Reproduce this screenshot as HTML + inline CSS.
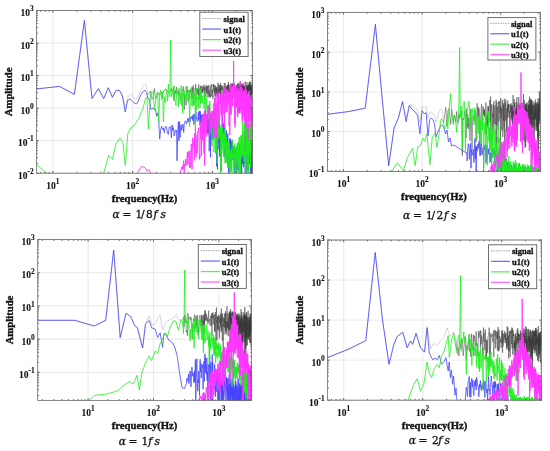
<!DOCTYPE html>
<html><head><meta charset="utf-8"><style>
html,body{margin:0;padding:0;background:#fff;}
svg{display:block;filter:blur(0.3px);}
text{font-family:'Liberation Serif', 'Times New Roman', serif;fill:#111;}
.tl{font-size:9.5px;font-weight:bold;stroke:#111;stroke-width:0.1px;}
.sup{font-size:7.4px;}
.al{font-size:10.7px;font-weight:bold;stroke:#111;stroke-width:0.35px;}
.lg{font-size:8.5px;font-weight:bold;stroke:#111;stroke-width:0.3px;}
.cap{font-size:10.6px;font-family:'DejaVu Serif',serif;stroke:#111;stroke-width:0.3px;}
</style></head><body>
<svg width="550" height="451" viewBox="0 0 550 451">
<clipPath id="c_p1"><rect x="36.6" y="10.5" width="216" height="162.7"/></clipPath>
<path d="M52.87 10.5V173.2M132.6 10.5V173.2M212.33 10.5V173.2M36.6 173.2H252.6M36.6 140.66H252.6M36.6 108.12H252.6M36.6 75.58H252.6M36.6 43.04H252.6M36.6 10.5H252.6" stroke="#e3e3e3" stroke-width="0.8" fill="none"/>
<g clip-path="url(#c_p1)" fill="none" stroke-linejoin="bevel">
<path d="M36 89 59.6 86.4 74.4 94.4 84.4 20.4 92 98.5 98.3 88.6 103.7 98.5 108.3 87.8 112.4 97.3 116.1 90.3 119.4 90.3 122.4 95 125.2 107 127.8 97 130.2 94 132.4 95 134.5 99 136.5 98.5 138.4 96 140.2 92 141.9 88 143.5 85 145.1 84 146.5 86.5 148.05 94.73" stroke="#9a9a9a" stroke-width="0.6" stroke-dasharray="1.3 0.7"/>
<path d="M148.05 94.73 149.41 92.65 150.72 90.91 151.98 99.37 153.19 97.08 154.37 88.36 155.5 98.57 156.6 96.24 157.67 95.29 158.7 93.25 159.7 95.12 160.68 92.98 161.63 92.29 162.55 97.4 163.45 91.05 164.33 91.11 165.18 89.11 166.02 88.73 166.83 90.02 167.63 90.6 168.4 93.08 169.17 92.84 169.91 92.33 170.64 91.27 171.35 88.46 172.05 91.39 172.74 90.07 173.41 86.69 174.07 100.89 174.72 92.97 175.35 90.5 175.98 94.21 176.59 87.14 177.19 92.97 177.78 93.96 178.37 89.9 178.94 95.37 179.5 92.23 180.05 96.83 180.6 99.86 181.14 94.08 181.67 93.63 182.19 89.9 182.7 90.93 183.2 86.51 183.7 92.27 184.19 109.81 184.68 94.13 185.16 94.66 185.63 99.78 186.09 105.3 186.55 94.88 187 86.19 187.45 91.97 187.89 90.23 188.33 94.99 188.76 96.01 189.18 99.96 189.6 90.27 190.02 91.5 190.43 92.18 190.83 88.93 191.23 98.28 191.63 93.94 192.02 89.51 192.4 87.22 192.79 98.13 193.17 85.25 193.54 91.14 193.91 105.29 194.28 98.93 194.64 96.73 195 88.22 195.35 89.45 195.7 83.94 196.05 94.74 196.4 93.54 196.74 88.82 197.08 90.55 197.41 88.61 197.74 93.94 198.07 90.06 198.4 95.59 198.72 84.43 199.04 98.17 199.35 95.56 199.67 88.48 199.98 97.86 200.28 86.88 200.59 88.46 200.89 85.61 201.19 87.83 201.49 89.46 201.78 93.22 202.08 85.89 202.37 91.93 202.65 89.13 202.94 93.14 203.22 86.64 203.5 89.6 203.78 86.83 204.05 84.72 204.33 98.67 204.6 87.31 204.87 90.1 205.14 86.77 205.4 88.7 205.67 92.43 205.93 97.39 206.19 84.91 206.44 90.79 206.7 92.57 206.95 86.08 207.2 94 207.45 86.09 207.7 89.44 207.95 97.75 208.19 97.23 208.44 85.18 208.68 88.8 208.92 95.1 209.16 90.4 209.39 97.15 209.63 94.69 209.86 96.39 210.09 85.43 210.32 89.22 210.55 97.51 210.78 96.47 211 94.57 211.23 84.05 211.45 84.68 211.67 88.18 211.89 96.44 212.11 92.8 212.33 89.59 212.54 93.32 212.76 93.33 212.97 98.67 213.18 84.4 213.39 86.84 213.6 84.31 213.81 91.3 214.02 91.31 214.22 84.51 214.43 90.64 214.63 93.46 214.83 87.92 215.03 96.7 215.23 90.96 215.43 85.65 215.63 89.58 215.82 96.72 216.02 86.68 216.21 91.93 216.4 87.16 216.6 93.81 216.79 89.53 216.98 87.84 217.17 88.7 217.35 94.36 217.54 95.37 217.73 91.09 217.91 82.69 218.09 96.71 218.28 90.4 218.46 84.72 218.64 98.51 218.82 89.49 219 93.18 219.18 91.66 219.35 89.4 219.53 93.01 219.7 85.01 219.88 90.16 220.05 87.2 220.23 94.64 220.4 83.09 220.57 88.95 220.74 99.14 220.91 84.91 221.08 85.9 221.24 86.42 221.41 90.18 221.58 85.7 221.74 88.46 221.91 87.83 222.07 98.06 222.23 90.92 222.4 90.77 222.56 88.28 222.72 85.76 222.88 88.88 223.04 89 223.19 91.55 223.35 92.86 223.51 90.79 223.67 100.22 223.82 91.26 223.98 87.56 224.13 89.43 224.28 82.88 224.44 93.33 224.59 86.21 224.74 89.43 224.89 88.64 225.04 91.12 225.19 94.05 225.34 88.49 225.49 86.95 225.64 89.95 225.78 100.27 225.93 96.71 226.08 88.1 226.22 86.26 226.37 99.19 226.51 87.07 226.65 86.54 226.8 94.1 226.94 86.79 227.08 89.34 227.22 87.45 227.36 85.06 227.5 95.3 227.64 96.49 227.78 85.07 227.92 93.44 228.05 89.76 228.19 84.18 228.33 87.91 228.46 81.86 228.6 99.38 228.73 97.71 228.87 91.65 229 87.98 229.14 98.07 229.27 101.88 229.4 92.32 229.53 91.46 229.67 85.46 229.8 92.18 229.93 107.01 230.06 96.06 230.19 92.56 230.32 88.24 230.44 87.77 230.57 86.16 230.7 89.15 230.83 83.31 230.95 92.96 231.08 95.54 231.2 89.53 231.33 92.05 231.45 86.12 231.58 97.66 231.7 88.94 231.83 84.12 231.95 89.94 232.07 91.1 232.19 93.94 232.32 83.45 232.44 88.85 232.56 84.36 232.68 84.88 232.8 85.19 232.92 96.81 233.04 95.01 233.16 86.89 233.27 92.35 233.39 93.21 233.51 87.37 233.63 89.65 233.74 91.95 233.86 91.75 233.98 92.29 234.09 98.19 234.21 82.98 234.32 87.22 234.44 94.09 234.55 93.09 234.66 87.97 234.78 89.57 234.89 98.72 235 105.18 235.12 90.23 235.23 85.53 235.34 88.44 235.45 88.08 235.56 87.75 235.67 88.83 235.78 89.72 235.89 88.31 236 93.92 236.11 92.77 236.22 95.14 236.33 99.37 236.43 84.84 236.54 90.59 236.65 107.56 236.76 91.62 236.86 86.65 236.97 92.93 237.08 92.93 237.18 86.52 237.29 96.72 237.39 109.72 237.5 84 237.6 94.25 237.71 88.75 237.81 88.48 237.91 94.21 238.02 100.5 238.12 98.44 238.22 82.82 238.32 90.55 238.43 106.25 238.53 89.98 238.63 87.31 238.73 89.16 238.83 86.82 238.93 83.71 239.03 86.83 239.13 93.19 239.23 91.29 239.33 113.04 239.43 88.72 239.53 87.99 239.63 87.36 239.72 100.81 239.82 86.23 239.92 86.85 240.02 83.13 240.11 91.14 240.21 88.1 240.31 84.3 240.4 92.18 240.5 94.18 240.6 82.28 240.69 86.27 240.79 87.51 240.88 88.19 240.98 88.37 241.07 89.97 241.17 103.86 241.26 89.47 241.35 86.71 241.45 84.02 241.54 93.69 241.63 93.9 241.73 87.74 241.82 97.19 241.91 85.98 242 96.63 242.09 89.53 242.19 84.01 242.28 92.04 242.37 94.09 242.46 87.5 242.55 85.92 242.64 88.09 242.73 101.61 242.82 91.52 242.91 104.85 243 86.29 243.09 100.04 243.18 82.82 243.26 89.2 243.35 93 243.44 85.93 243.53 88.2 243.62 87.58 243.7 102.43 243.79 88.32 243.88 108.91 243.97 94.63 244.05 85.51 244.14 86.49 244.23 90.29 244.31 95.33 244.4 86.48 244.48 100.19 244.57 85.9 244.65 86.78 244.74 92.77 244.82 86.62 244.91 88.89 244.99 85.85 245.08 89.84 245.16 93.24 245.24 83.07 245.33 81.4 245.41 84.36 245.49 93.31 245.58 85.32 245.66 89.1 245.74 90.58 245.82 85.84 245.91 93.12 245.99 94.91 246.07 92.12 246.15 87.98 246.23 87.22 246.31 93.84 246.4 87.06 246.48 85.73 246.56 93.84 246.64 88.57 246.72 96.24 246.8 90.99 246.88 86.77 246.96 82.08 247.04 86.41 247.12 92.16 247.19 87.42 247.27 90.92 247.35 95.88 247.43 85.5 247.51 84.98 247.59 87.12 247.67 92.17 247.74 89.19 247.82 86.88 247.9 90.12 247.98 87.3 248.05 86.01 248.13 90.28 248.21 87.04 248.28 92.89 248.36 87.81 248.44 89.1 248.51 84.45 248.59 92.64 248.67 93.67 248.74 88.15 248.82 89.85 248.89 85.21 248.97 87.9 249.04 90.48 249.12 82.23 249.19 90.35 249.27 87.89 249.34 86.19 249.41 86.72 249.49 84.98 249.56 89.73 249.64 87.06 249.71 101.74 249.78 86.25 249.86 91.23 249.93 81.38 250 98.04 250.08 83.45 250.15 81.98 250.22 90.45 250.29 93.71 250.37 92.63 250.44 96.97 250.51 93.78 250.58 92.96 250.65 102.77 250.72 85.35 250.8 89.86 250.87 89.99 250.94 89.12 251.01 83.52 251.08 85.74 251.15 90.67 251.22 88.97 251.29 93.15 251.36 95.29 251.43 93.01 251.5 86.14 251.57 89.82 251.64 95.27 251.71 92.57 251.78 89.57 251.85 87.47 251.92 103.02 251.99 105.92 252.05 98.91 252.12 89.03 252.19 94.12 252.26 84.27 252.33 85.85 252.4 93.56 252.46 81.96 252.53 93.93 252.6 89.06" stroke="#3a3a3a" stroke-width="0.5" />
<path d="M36 89 59.6 86.4 74.4 94.4 84.4 20.4 92 98.5 98.3 88.6 103.7 98.5 108.3 87.8 112.4 97.3 116.1 90.3 119.4 90.3 122.4 96 125.2 112 127.8 100 130.2 99 132.4 101 134.5 103.4 136.5 103.9 138.4 101 140.2 96 141.9 93 143.5 91 145.1 90.3 146.5 92.7 148.05 98.76 149.41 99 150.72 109.31 151.98 108.76 153.19 108.21 154.37 109.7 155.5 108.92 156.6 116.21 157.67 112.88 158.7 119.54 159.7 139.08 160.68 129.42 161.63 126.17 162.55 129.82 163.45 127.86 164.33 132.79 165.18 127.07 166.02 126.11 166.83 129.04 167.63 133.59 168.4 134.42 169.17 127.09 169.91 127.2 170.64 126.84 171.35 137.91 172.05 124.92 172.74 130.44 173.41 127.69 174.07 136.02 174.72 134.43 175.35 129.93 175.98 131.48 176.59 130.18 177 160.7 177.78 133.6 178.37 121.8 178.94 140.73 179.5 121.58 180.05 137.43 180.6 126.58 181.14 124.61 181.67 130.52 182.19 128.58 182.7 124.6 183.2 124.21 183.7 132.43 184.19 124.93 184.68 123.32 185.16 120.83 185.63 121.29 186.09 121.43 186.55 124.08 187 122.88 187.45 119.93 187.89 117.99 188.33 121.75 188.76 119.2 189.18 119.59 189.6 116.04 190.02 122.11 190.43 117.84 190.83 117.27 191.23 117.94 191.63 116.65 192.02 119.2 192.4 116.17 192.79 120.6 193.17 114.09 193.54 114.68 193.91 124.46 194.28 115.64 194.64 116.98 195 114.03 195.35 121.38 195.7 111.07 196.05 112.38 196.4 118.9 196.74 117.5 197.08 121.46 197.41 120.68 197.74 120.28 198.07 119.18 198.4 112.2 198.72 120.38 199.04 112.13 199.35 110.99 199.67 113.42 199.98 125.36 200.28 111.31 200.59 124.1 200.89 114.41 201.19 117.26 201.49 115.54 201.78 121.89 202.08 123.03 202.37 114.6 202.65 115.66 202.94 114.6 203.22 116.7 203.5 124.87 203.78 122.13 204.05 120.77 204.33 120.44 204.6 143.54 204.87 125.39 205.14 109.36 205.4 119.29 205.67 128.32 205.93 118 206.19 117.11 206.44 114.52 206.7 123.38 206.95 122 207.2 114.79 207.45 133.64 207.7 115.12 207.95 119.68 208.19 132.85 208.44 119.62 208.68 133.87 208.92 118.8 209.16 151.18 209.39 146.58 209.63 127.11 209.86 115.56 210.09 114.09 210.32 129.55 210.55 157.19 210.78 119.85 211 117.4 211.23 114.35 211.45 117.98 211.67 137.06 211.89 140.43 212.11 119.8 212.33 127.36 212.54 138.5 212.76 124.19 212.97 139.31 213.18 125.12 213.39 127.48 213.6 126.19 213.81 110.31 214.02 128.44 214.22 127.07 214.43 116.89 214.63 117.33 214.83 137.81 215.03 123.28 215.23 124.75 215.43 126.06 215.63 130.89 215.82 132.01 216.02 146.5 216.21 153.84 216.4 135.9 216.6 166.34 216.79 123.51 216.98 119.16 217.17 138.93 217.35 130.39 217.54 169.33 217.73 134.6 217.91 115.01 218.09 149.5 218.28 121.97 218.46 125.64 218.64 141.63 218.82 137.24 219 141.68 219.18 123.86 219.35 125.93 219.53 156.48 219.7 135.91 219.88 133.27 220.05 132.81 220.23 131.81 220.4 132.27 220.57 137.72 220.74 156.06 220.91 134.43 221.08 171.33 221.24 135.05 221.41 131.33 221.58 131.1 221.74 133.36 221.91 140.56 222.07 140.16 222.23 129.64 222.4 134.61 222.56 115.42 222.72 134.72 222.88 132.07 223.04 138.42 223.19 142.65 223.35 123.21 223.51 143.32 223.67 126.47 223.82 131.54 223.98 134.37 224.13 142.76 224.28 155.5 224.44 131.38 224.59 140.81 224.74 125.15 224.89 133.75 225.04 142.13 225.19 158.89 225.34 146.19 225.49 157.49 225.64 142.61 225.78 139.83 225.93 135.52 226.08 141.76 226.22 140.93 226.37 130.39 226.51 138.79 226.65 146.09 226.8 161.62 226.94 143.51 227.08 136.62 227.22 136.97 227.36 138.13 227.5 139.38 227.64 152.99 227.78 133.56 227.92 147.86 228.05 164.22 228.19 155.51 228.33 143.09 228.46 151.4 228.6 173.52 228.73 162.39 228.87 154.65 229 164 229.14 157.32 229.27 152.04 229.4 150.17 229.53 141.93 229.67 145.44 229.8 138.56 229.93 155.65 230.06 171.95 230.19 138.63 230.32 150.32 230.44 140.1 230.57 142.29 230.7 147.75 230.83 143.57 230.95 167.7 231.08 149.74 231.2 143.55 231.33 154.02 231.45 140.94 231.58 142.15 231.7 153.04 231.83 143.73 231.95 144.85 232.07 150.06 232.19 142.25 232.32 159.61 232.44 141.02 232.56 157.78 232.68 146.92 232.8 150.77 232.92 154.26 233.04 149.96 233.16 152.33 233.27 154.66 233.39 158.31 233.51 147.91 233.63 147.15 233.74 160.37 233.86 146.28 233.98 146.01 234.09 150.83 234.21 150.74 234.32 161.11 234.44 164.67 234.55 149.96 234.66 159.68 234.78 188.04 234.89 161.87 235 152.19 235.12 162.73 235.23 159.69 235.34 167.44 235.45 156.08 235.56 157.07 235.67 165.25 235.78 172.84 235.89 147.98 236 148.17 236.11 153.61 236.22 148.86 236.33 159.67 236.43 171.86 236.54 150.23 236.65 156.24 236.76 156.11 236.86 159.37 236.97 146.58 237.08 155.13 237.18 154.3 237.29 169.93 237.39 152.51 237.5 148.42 237.6 157.4 237.71 157.93 237.81 160.24 237.91 162.93 238.02 161.24 238.12 154.52 238.22 152.25 238.32 155.73 238.43 144.14 238.53 171.11 238.63 153.27 238.73 155.32 238.83 167.12 238.93 166.84 239.03 161.68 239.13 166.12 239.23 154.28 239.33 146.39 239.43 161.91 239.53 144.52 239.63 154.3 239.72 156.16 239.82 153.44 239.92 169.59 240.02 157.08 240.11 151.9 240.21 153.78 240.31 154.27 240.4 166.87 240.5 159.39 240.6 167.18 240.69 157.4 240.79 152.92 240.88 152.94 240.98 180.95 241.07 147.46 241.17 158.06 241.26 164.53 241.35 168.78 241.45 147.46 241.54 154.31 241.63 155.73 241.73 173.23 241.82 148.2 241.91 154.47 242 158.92 242.09 157.83 242.19 155.91 242.28 155.25 242.37 148.81 242.46 163.78 242.55 154.99 242.64 152.41 242.73 156.28 242.82 147.93 242.91 147.43 243 154.97 243.09 156.24 243.18 154.69 243.26 153.93 243.35 161.02 243.44 167.21 243.53 158.52 243.62 156.79 243.7 152.42 243.79 156.97 243.88 160.04 243.97 164.1 244.05 155.96 244.14 162.48 244.23 162.65 244.31 152.07 244.4 163.03 244.48 154.22 244.57 153.07 244.65 154.84 244.74 157.69 244.82 155.97 244.91 153.8 244.99 147.91 245.08 152.51 245.16 175.3 245.24 156.3 245.33 159.78 245.41 150.31 245.49 161.29 245.58 151.57 245.66 151.18 245.74 153.51 245.82 160.31 245.91 154.48 245.99 147.76 246.07 160.89 246.15 162.63 246.23 160.36 246.31 147.55 246.4 153.66 246.48 147.97 246.56 170.48 246.64 160.73 246.72 176.33 246.8 160.09 246.88 154.08 246.96 163.22 247.04 150.18 247.12 160.96 247.19 163.82 247.27 164.79 247.35 158.6 247.43 169.37 247.51 147.73 247.59 153.68 247.67 145.61 247.74 150.49 247.82 144.91 247.9 153.26 247.98 149.79 248.05 167.76 248.13 152.53 248.21 150.36 248.28 162.95 248.36 161.74 248.44 154.63 248.51 155.15 248.59 171.47 248.67 161.5 248.74 142.85 248.82 154.75 248.89 164.93 248.97 151.31 249.04 160.87 249.12 152.7 249.19 140.51 249.27 146.38 249.34 156.54 249.41 158.29 249.49 146.37 249.56 152.67 249.64 152.2 249.71 159.82 249.78 162.76 249.86 153.36 249.93 150.86 250 149.42 250.08 150.07 250.15 160.76 250.22 150.04 250.29 187.61 250.37 175.55 250.44 140.13 250.51 152.27 250.58 146.96 250.65 141.53 250.72 152.46 250.8 165.39 250.87 145.44 250.94 163.6 251.01 160.85 251.08 148.56 251.15 149.51 251.22 159.19 251.29 151.81 251.36 149.67 251.43 156.24 251.5 172.25 251.57 143.13 251.64 165.27 251.71 167.85 251.78 175.64 251.85 149.52 251.92 147.9 251.99 145.36 252.05 156.07 252.12 145.53 252.19 156.34 252.26 156.09 252.33 170.72 252.4 158.4 252.46 152.24 252.53 152.18 252.6 157.5" stroke="#4646ff" stroke-width="0.8" />
<path d="M36 164.2 50 176 98 176 103.5 174 108.7 155.1 112.4 159.5 116 143.6 120 138.2 122.9 142.7 125.3 165.5 127.8 133.6 129.5 130 131.5 127 134 125.8 136.3 122 138.6 118.8 141 113 143.3 107.2 145.6 98 147 97 148.4 129 150.72 91.92 151.98 92.41 153.19 91.46 154.37 110.27 155.5 102.88 156.6 93.38 157.67 91.61 158.7 122.16 159.7 93.75 160.68 89.97 161.63 99.62 162.55 91.91 163.45 121.89 164.33 96.65 165.18 102.64 166.02 94.77 166.83 90.17 167.63 101.35 168.4 84.17 169.17 96.77 169.91 95.83 170.6 40 171.35 96.81 172.05 91.71 172.74 90.23 173.41 98.77 174.07 85.82 174.72 100.14 175.35 100.97 175.98 105.59 176.59 92.2 177.19 91.12 177.78 92.59 178.37 106.73 178.94 87.9 179.5 94.38 180.05 103.29 180.6 98.35 181.14 85.44 181.67 105.8 182.19 92.96 182.7 113.05 183.2 92.11 183.7 96.44 184.19 90.84 184.68 97.12 185.16 88.88 185.63 87.86 186.09 86.61 186.55 95.86 187 100.7 187.45 92.56 187.89 95.83 188.33 103.08 188.76 90.42 189.18 90.97 189.6 126.81 190.02 107.05 190.43 105.19 190.83 103.02 191.23 87.11 191.63 105 192.02 104.76 192.4 106.38 192.79 92.1 193.17 103.1 193.54 104.92 193.91 101.24 194.28 96.9 194.64 95.19 195 104.56 195.35 127.99 195.7 90.12 196.05 101.32 196.4 88.02 196.74 110.35 197.08 106.06 197.41 97.29 197.74 99.13 198.07 96.94 198.4 108.25 198.72 96.38 199.04 99.38 199.35 88.01 199.67 96.51 199.98 107.76 200.28 89.49 200.59 103.77 200.89 101.3 201.19 102.12 201.49 92.54 201.78 102.47 202.08 99.79 202.37 95.91 202.65 103.14 202.94 101.66 203.22 102.17 203.5 102.34 203.78 104.31 204.05 108.62 204.33 94.47 204.6 103.79 204.87 97.56 205.14 92.32 205.4 94.84 205.67 102.77 205.93 109.09 206.19 98.39 206.44 98.07 206.7 101.45 206.95 109.74 207.2 116.99 207.45 117.4 207.7 120.21 207.95 111.26 208.19 108.78 208.44 104.85 208.68 113.98 208.92 106.8 209.16 120.32 209.39 104.46 209.63 111.42 209.86 100.92 210.09 116.41 210.32 114.34 210.55 123.97 210.78 118.94 211 117.65 211.23 134.14 211.45 111.95 211.67 130.26 211.89 146.15 212.11 142.65 212.33 112.12 212.54 118.93 212.76 112.69 212.97 116.85 213.18 120.5 213.39 130.45 213.6 124.55 213.81 129.51 214.02 152.19 214.22 131.38 214.43 111.44 214.63 124.06 214.83 130.34 215.03 132.69 215.23 121.62 215.43 131.9 215.63 153.22 215.82 136.83 216.02 133.24 216.21 122.94 216.4 152.81 216.6 124.44 216.79 129.72 216.98 122.18 217.17 163.54 217.35 127.1 217.54 125.48 217.73 123.58 217.91 135.44 218.09 128.72 218.28 126.64 218.46 135.37 218.64 139.93 218.82 122.29 219 119.98 219.18 124.6 219.35 136.85 219.53 131.07 219.7 128.12 219.88 138.21 220.05 134.46 220.23 134.22 220.4 126.6 220.57 140.19 220.74 188.26 220.91 144.67 221.08 124.92 221.24 166.19 221.41 155.04 221.58 145.97 221.74 128.3 221.91 132.89 222.07 148.84 222.23 136.63 222.4 143.58 222.56 143.49 222.72 127.09 222.88 137.75 223.04 152.92 223.19 148.55 223.35 132.96 223.51 157.09 223.67 156.96 223.82 142.32 223.98 138.58 224.13 148.53 224.28 143.17 224.44 133.83 224.59 142.7 224.74 129.67 224.89 162.31 225.04 162.99 225.19 133.24 225.34 143.14 225.49 143.29 225.64 153.5 225.78 153.99 225.93 162.88 226.08 144.45 226.22 158.67 226.37 136.57 226.51 150.39 226.65 152.86 226.8 140.75 226.94 142.16 227.08 144.99 227.22 160.29 227.36 159.13 227.5 164.77 227.64 142.93 227.78 167.84 227.92 141.96 228.05 146.82 228.19 151.25 228.33 167.95 228.46 158.37 228.6 152.29 228.73 141.46 228.87 146.59 229 155.17 229.14 148.84 229.27 143.52 229.4 149.69 229.53 149.16 229.67 177.26 229.8 163.49 229.93 165.14 230.06 159.14 230.19 153.74 230.32 149.87 230.44 166.3 230.57 162.72 230.7 173.25 230.83 152.9 230.95 157.03 231.08 150.26 231.2 159.44 231.33 149.53 231.45 159.64 231.58 171.42 231.7 151.96 231.83 151.9 231.95 147.87 232.07 148.68 232.19 139.24 232.32 153.58 232.44 157.7 232.56 154.97 232.68 157.68 232.8 155.35 232.92 152.69 233.04 158.34 233.16 174.67 233.27 161.8 233.39 158.51 233.51 152.3 233.63 155.96 233.74 146.94 233.86 151.27 233.98 163.54 234.09 166.78 234.21 152.5 234.32 146.69 234.44 153.85 234.55 156.93 234.66 149.54 234.78 143.5 234.89 150.34 235 149.25 235.12 158.64 235.23 172.71 235.34 161.08 235.45 156.23 235.56 154.71 235.67 163.65 235.78 161.11 235.89 157.96 236 184.54 236.11 147.85 236.22 150.14 236.33 152.17 236.43 154.17 236.54 150.23 236.65 160.28 236.76 152.62 236.86 151.88 236.97 146.78 237.08 154.95 237.18 148.52 237.29 144.09 237.39 150.04 237.5 142.7 237.6 151.44 237.71 153 237.81 161.94 237.91 145.34 238.02 194.97 238.12 150.65 238.22 147.23 238.32 164.77 238.43 148.23 238.53 156.73 238.63 142 238.73 152.02 238.83 165.22 238.93 166.74 239.03 144.81 239.13 137.33 239.23 153.32 239.33 154.99 239.43 149.77 239.53 175.67 239.63 153.86 239.72 154.82 239.82 184.98 239.92 148.58 240.02 185.45 240.11 137.31 240.21 136.61 240.31 147 240.4 153.71 240.5 155.49 240.6 155.66 240.69 175.13 240.79 154.05 240.88 142.57 240.98 147.46 241.07 135.56 241.17 135.14 241.26 158.6 241.35 142.81 241.45 135.27 241.54 153.43 241.63 156.34 241.73 139.05 241.82 156.57 241.91 144.49 242 145.41 242.09 152.36 242.19 141.18 242.28 137.85 242.37 155.42 242.46 153.19 242.55 150.23 242.64 121.09 242.73 150.48 242.82 149.56 242.91 142.48 243 130.64 243.09 140.76 243.18 137.84 243.26 143.28 243.35 154.19 243.44 149.5 243.53 149.7 243.62 155.31 243.7 143.83 243.79 161.05 243.88 152.35 243.97 139.06 244.05 132.12 244.14 143.79 244.23 121.62 244.31 128.72 244.4 141.84 244.48 156.28 244.57 150.55 244.65 145.71 244.74 137.02 244.82 165.29 244.91 137.23 244.99 130.43 245.08 132.76 245.16 145.12 245.24 123.49 245.33 145.09 245.41 146.23 245.49 200.26 245.58 129.47 245.66 148.5 245.74 158.26 245.82 125.85 245.91 134.82 245.99 149.27 246.07 143.32 246.15 116.95 246.23 148.78 246.31 117.29 246.4 129.89 246.48 131.94 246.56 128.22 246.64 155.22 246.72 135.48 246.8 132.93 246.88 117.55 246.96 177.53 247.04 134.83 247.12 116.86 247.19 134.19 247.27 138.07 247.35 153.61 247.43 126.03 247.51 149.16 247.59 135.23 247.67 130.31 247.74 167.98 247.82 160.36 247.9 131.3 247.98 127.23 248.05 126.82 248.13 143.78 248.21 124.23 248.28 156.12 248.36 173.42 248.44 122.91 248.51 134.55 248.59 125.95 248.67 138.45 248.74 144.18 248.82 125.91 248.89 161.77 248.97 139.93 249.04 140.35 249.12 149.55 249.19 125.78 249.27 123.97 249.34 122.79 249.41 133.84 249.49 123.05 249.56 124.93 249.64 120.51 249.71 127.01 249.78 128.16 249.86 128.39 249.93 124.77 250 126.69 250.08 138.31 250.15 129.03 250.22 144.09 250.29 154.76 250.37 128.27 250.44 136.21 250.51 138.38 250.58 166.95 250.65 131.32 250.72 133.95 250.8 141.84 250.87 132.06 250.94 141.34 251.01 127.33 251.08 134.48 251.15 126.37 251.22 124.23 251.29 141.18 251.36 115.53 251.43 135.7 251.5 122.47 251.57 119.51 251.64 115.81 251.71 118.21 251.78 123.98 251.85 122.49 251.92 135.92 251.99 133.11 252.05 135.43 252.12 126.44 252.19 156.37 252.26 125.54 252.33 115.49 252.4 117.88 252.46 118.79 252.53 115.8 252.6 150.28" stroke="#20ee20" stroke-width="0.8" />
<path d="M136 176 139 170 141.5 166.5 143.5 167 145.5 168 147 171 149 169.5 151 174 153 178 178.37 175.4 178.94 179.18 179.5 175.68 180.05 172.22 180.6 170.32 181.14 170.19 181.67 166.91 182.19 169.48 182.7 165.63 183.2 169.15 183.7 160.69 184.19 174.13 184.68 163.91 185.16 165.87 185.63 159.05 186.09 162.49 186.55 165.36 187 156.94 187.45 151.95 187.89 164.51 188.33 158.59 188.76 151.28 189.18 160.32 189.6 167.98 190.02 150.56 190.43 167.41 190.83 166.87 191.23 143.83 191.63 152.67 192.02 169.42 192.4 152.71 192.79 137.68 193.17 147.69 193.54 140.06 193.91 139.98 194.28 160.32 194.64 133.1 195 154.07 195.35 128.17 195.7 132.19 196.05 157.22 196.4 150.63 196.74 142.21 197.08 134.83 197.41 153.2 197.74 131.65 198.07 133.06 198.4 131.32 198.72 127.54 199.04 136.11 199.35 159.48 199.67 155.45 199.98 157.85 200.28 122.32 200.59 131.75 200.89 139.16 201.19 121.51 201.49 156 201.78 136.68 202.08 117.67 202.37 140.4 202.65 122.38 202.94 132.86 203.22 114.27 203.5 120.62 203.78 147.74 204.05 153.98 204.33 111.24 204.6 165.65 204.87 141.75 205.14 123.6 205.4 115.13 205.67 133.11 205.93 123.65 206.19 123.5 206.44 114.11 206.7 136.44 206.95 130.28 207.2 116.28 207.45 119.48 207.7 116.71 207.95 105.38 208.19 113.5 208.44 110.1 208.68 116.06 208.92 116.37 209.16 135.45 209.39 119.12 209.63 107.57 209.86 118.92 210.09 113.69 210.32 130.44 210.55 113.72 210.78 118.53 211 127.17 211.23 118.71 211.45 128.73 211.67 129.61 211.89 111.26 212.11 127.81 212.33 118.62 212.54 110.84 212.76 114.21 212.97 114.82 213.18 114.33 213.39 114.89 213.6 130.71 213.81 103.43 214.02 111.53 214.22 137.1 214.43 112.67 214.63 98.18 214.83 138.06 215.03 99.95 215.23 97.26 215.43 112.35 215.63 121.71 215.82 103.09 216.02 104.25 216.21 112.57 216.4 109.73 216.6 138.04 216.79 111.37 216.98 94.23 217.17 115.76 217.35 125.42 217.54 117.66 217.73 105.01 217.91 100.03 218.09 111.38 218.28 94.37 218.46 108.3 218.64 119.26 218.82 91.49 219 97.12 219.18 126.77 219.35 121.26 219.53 125.18 219.7 116.47 219.88 112.69 220.05 105.87 220.23 103.93 220.4 94.56 220.57 100.5 220.74 104.54 220.91 94.37 221.08 113.22 221.24 103.81 221.41 115.24 221.58 103.64 221.74 113.85 221.91 98.74 222.07 126.59 222.23 93.66 222.4 105.5 222.56 98.53 222.72 101.32 222.88 97.11 223.04 93.13 223.19 115.01 223.35 108.67 223.51 90.27 223.67 89.34 223.82 92.53 223.98 94.69 224.13 95.68 224.28 104.96 224.44 127.62 224.59 100.8 224.74 102.33 224.89 87.16 225.04 99.96 225.19 102.03 225.34 90.82 225.49 82.99 225.64 94.82 225.78 112.43 225.93 92.71 226.08 112.19 226.22 98.38 226.37 92.72 226.51 102.36 226.65 99.2 226.8 89 226.94 95.19 227.08 111.73 227.22 100.39 227.36 91.92 227.5 101.17 227.64 105.9 227.78 92.93 227.92 98.68 228.05 94.43 228.19 97.47 228.33 95.66 228.46 90.81 228.6 102.79 228.73 95.47 228.87 98.33 229 110.99 229.14 126.03 229.27 92.49 229.4 98.36 229.53 106.99 229.67 99.65 229.8 135.02 229.93 99.43 230.06 96.38 230.19 92.28 230.32 84.55 230.44 90.88 230.57 99.3 230.7 113.92 230.83 91.88 230.95 98.2 231.08 114.77 231.2 97.28 231.33 86.98 231.45 98.84 231.58 97.25 231.7 96.44 231.83 103.15 231.95 103.73 232.07 85.7 232.19 102.56 232.32 90 232.44 97.28 232.56 87.48 232.68 105.54 232.8 103.79 232.92 106.52 233.04 88.57 233.16 86.78 233.27 91.31 233.39 98.11 233.51 95.49 233.6 61 233.74 90.6 233.86 94.01 233.98 95.19 234.09 97.99 234.21 98.14 234.32 83.33 234.44 92.81 234.55 86.09 234.66 94.46 234.78 123.44 234.89 101.82 235 108.28 235.12 127.42 235.23 86.45 235.34 97.12 235.45 89.83 235.56 95.01 235.67 92.11 235.78 101.17 235.89 95.15 236 103.81 236.11 94.14 236.22 96.7 236.33 106.47 236.43 92.61 236.54 99.79 236.65 104.16 236.76 85.89 236.86 97.69 236.97 97.91 237.08 95.84 237.18 92.26 237.29 96.62 237.39 115.55 237.5 92.92 237.6 101.09 237.71 117.25 237.81 105.78 237.91 90.4 238.02 91.88 238.12 89.11 238.22 112.01 238.32 88.66 238.43 113.16 238.53 97.64 238.63 95.43 238.73 87.98 238.83 92.96 238.93 100.94 239.03 101.6 239.13 90.97 239.23 101.14 239.33 97.4 239.43 92.39 239.53 94.97 239.63 97.75 239.72 94.25 239.82 106.69 239.92 97.37 240.02 97.41 240.11 98.18 240.21 80.91 240.31 106.91 240.4 95.79 240.5 105.09 240.6 97.85 240.69 110.51 240.79 99.89 240.88 103.72 240.98 113.11 241.07 91.2 241.17 102.41 241.26 97.07 241.35 110.5 241.45 106.68 241.54 87.01 241.63 88 241.73 92.99 241.82 104.62 241.91 102.69 242 88.23 242.09 114.34 242.19 121.29 242.28 99.91 242.37 100.48 242.46 95.31 242.55 113.55 242.64 105.95 242.73 111.06 242.82 119.74 242.91 111.85 243 116.09 243.09 96.19 243.18 100.95 243.26 91.45 243.35 98.14 243.44 103.59 243.53 115.37 243.62 110.99 243.7 91.66 243.79 101.91 243.88 103.24 243.97 106.87 244.05 97.6 244.14 105.04 244.23 90.08 244.31 99.58 244.4 105.55 244.48 100.5 244.57 104.81 244.65 121.1 244.74 108.29 244.82 118.66 244.91 98.38 244.99 99.26 245.08 112.24 245.16 124.42 245.24 82.77 245.33 93.72 245.41 151.08 245.49 107.01 245.58 104.26 245.66 103.51 245.74 128.87 245.82 125.73 245.91 115.49 245.99 101.18 246.07 116.24 246.15 121.77 246.23 111.57 246.31 102.16 246.4 102.77 246.48 89.73 246.56 93.19 246.64 106.78 246.72 99.75 246.8 126.66 246.88 95.11 246.96 102.32 247.04 107.63 247.12 102.91 247.19 106.19 247.27 103.44 247.35 98.6 247.43 97.25 247.51 108.46 247.59 108.91 247.67 95.48 247.74 95.55 247.82 104.87 247.9 117.39 247.98 102.91 248.05 104.74 248.13 140.05 248.21 116.43 248.28 102.91 248.36 111.66 248.44 99.25 248.51 109.4 248.59 98.6 248.67 121.63 248.74 95.58 248.82 100.16 248.89 110.56 248.97 96.3 249.04 91.16 249.12 104.73 249.19 109.41 249.27 116.2 249.34 100.46 249.41 120.98 249.49 105.74 249.56 116.68 249.64 110.55 249.71 112.02 249.78 116.87 249.86 103.06 249.93 114.24 250 110.23 250.08 102.82 250.15 119.95 250.22 100.06 250.29 121.28 250.37 97.09 250.44 106.74 250.51 102.96 250.58 117.38 250.65 98.71 250.72 104.25 250.8 110.95 250.87 101.51 250.94 111.21 251.01 127.33 251.08 113 251.15 96.82 251.22 107.7 251.29 107.49 251.36 94.71 251.43 111.09 251.5 117.76 251.57 111.15 251.64 115.87 251.71 105.9 251.78 106.52 251.85 97.46 251.92 101.94 251.99 125.36 252.05 114.74 252.12 125.73 252.19 110.57 252.26 116.24 252.33 112.49 252.4 120.18 252.46 160.43 252.53 114.49 252.6 105.7" stroke="#ff38ff" stroke-width="0.9" />
</g>
<path d="M40.52 173.2v-1.3M40.52 10.5v1.3M45.15 173.2v-1.3M45.15 10.5v1.3M49.23 173.2v-1.3M49.23 10.5v1.3M52.87 173.2v-2.2M52.87 10.5v2.2M76.87 173.2v-1.3M76.87 10.5v1.3M90.91 173.2v-1.3M90.91 10.5v1.3M100.87 173.2v-1.3M100.87 10.5v1.3M108.6 173.2v-1.3M108.6 10.5v1.3M114.91 173.2v-1.3M114.91 10.5v1.3M120.25 173.2v-1.3M120.25 10.5v1.3M124.87 173.2v-1.3M124.87 10.5v1.3M128.95 173.2v-1.3M128.95 10.5v1.3M132.6 173.2v-2.2M132.6 10.5v2.2M156.6 173.2v-1.3M156.6 10.5v1.3M170.64 173.2v-1.3M170.64 10.5v1.3M180.6 173.2v-1.3M180.6 10.5v1.3M188.33 173.2v-1.3M188.33 10.5v1.3M194.64 173.2v-1.3M194.64 10.5v1.3M199.98 173.2v-1.3M199.98 10.5v1.3M204.6 173.2v-1.3M204.6 10.5v1.3M208.68 173.2v-1.3M208.68 10.5v1.3M212.33 173.2v-2.2M212.33 10.5v2.2M236.33 173.2v-1.3M236.33 10.5v1.3M250.37 173.2v-1.3M250.37 10.5v1.3M36.6 173.2h2.2M252.6 173.2h-2.2M36.6 163.4h1.3M252.6 163.4h-1.3M36.6 157.67h1.3M252.6 157.67h-1.3M36.6 153.61h1.3M252.6 153.61h-1.3M36.6 150.46h1.3M252.6 150.46h-1.3M36.6 147.88h1.3M252.6 147.88h-1.3M36.6 145.7h1.3M252.6 145.7h-1.3M36.6 143.81h1.3M252.6 143.81h-1.3M36.6 142.15h1.3M252.6 142.15h-1.3M36.6 140.66h2.2M252.6 140.66h-2.2M36.6 130.86h1.3M252.6 130.86h-1.3M36.6 125.13h1.3M252.6 125.13h-1.3M36.6 121.07h1.3M252.6 121.07h-1.3M36.6 117.92h1.3M252.6 117.92h-1.3M36.6 115.34h1.3M252.6 115.34h-1.3M36.6 113.16h1.3M252.6 113.16h-1.3M36.6 111.27h1.3M252.6 111.27h-1.3M36.6 109.61h1.3M252.6 109.61h-1.3M36.6 108.12h2.2M252.6 108.12h-2.2M36.6 98.32h1.3M252.6 98.32h-1.3M36.6 92.59h1.3M252.6 92.59h-1.3M36.6 88.53h1.3M252.6 88.53h-1.3M36.6 85.38h1.3M252.6 85.38h-1.3M36.6 82.8h1.3M252.6 82.8h-1.3M36.6 80.62h1.3M252.6 80.62h-1.3M36.6 78.73h1.3M252.6 78.73h-1.3M36.6 77.07h1.3M252.6 77.07h-1.3M36.6 75.58h2.2M252.6 75.58h-2.2M36.6 65.78h1.3M252.6 65.78h-1.3M36.6 60.05h1.3M252.6 60.05h-1.3M36.6 55.99h1.3M252.6 55.99h-1.3M36.6 52.84h1.3M252.6 52.84h-1.3M36.6 50.26h1.3M252.6 50.26h-1.3M36.6 48.08h1.3M252.6 48.08h-1.3M36.6 46.19h1.3M252.6 46.19h-1.3M36.6 44.53h1.3M252.6 44.53h-1.3M36.6 43.04h2.2M252.6 43.04h-2.2M36.6 33.24h1.3M252.6 33.24h-1.3M36.6 27.51h1.3M252.6 27.51h-1.3M36.6 23.45h1.3M252.6 23.45h-1.3M36.6 20.3h1.3M252.6 20.3h-1.3M36.6 17.72h1.3M252.6 17.72h-1.3M36.6 15.54h1.3M252.6 15.54h-1.3M36.6 13.65h1.3M252.6 13.65h-1.3M36.6 11.99h1.3M252.6 11.99h-1.3M36.6 10.5h2.2M252.6 10.5h-2.2" stroke="#444" stroke-width="0.8" fill="none"/>
<rect x="36.6" y="10.5" width="216" height="162.7" stroke="#707070" stroke-width="0.85" fill="none"/>
<text x="33.6" y="178.7" text-anchor="end" class="tl">10<tspan dy="-4.7" class="sup">-2</tspan></text>
<text x="33.6" y="146.16" text-anchor="end" class="tl">10<tspan dy="-4.7" class="sup">-1</tspan></text>
<text x="33.6" y="113.62" text-anchor="end" class="tl">10<tspan dy="-4.7" class="sup">0</tspan></text>
<text x="33.6" y="81.08" text-anchor="end" class="tl">10<tspan dy="-4.7" class="sup">1</tspan></text>
<text x="33.6" y="48.54" text-anchor="end" class="tl">10<tspan dy="-4.7" class="sup">2</tspan></text>
<text x="33.6" y="16" text-anchor="end" class="tl">10<tspan dy="-4.7" class="sup">3</tspan></text>
<text x="52.87" y="189" text-anchor="middle" class="tl">10<tspan dy="-5.0" class="sup">1</tspan></text>
<text x="132.6" y="189" text-anchor="middle" class="tl">10<tspan dy="-5.0" class="sup">2</tspan></text>
<text x="212.33" y="189" text-anchor="middle" class="tl">10<tspan dy="-5.0" class="sup">3</tspan></text>
<text x="144.6" y="202.3" text-anchor="middle" class="al">frequency(Hz)</text>
<text transform="translate(12.2 91.85) rotate(-90)" text-anchor="middle" class="al">Amplitude</text>
<rect x="199.8" y="12.2" width="48.3" height="44.3" fill="#fff" stroke="#606060" stroke-width="0.9"/>
<path d="M202.3 18.5H221.3" stroke="#888" stroke-width="0.8" stroke-dasharray="1.5 1"/>
<text x="223.5" y="22" class="lg">signal</text>
<path d="M202.3 29.07H221.3" stroke="#6a74ff" stroke-width="1.3" />
<text x="223.5" y="32.57" class="lg">u1(t)</text>
<path d="M202.3 39.64H221.3" stroke="#5cf05c" stroke-width="1.3" />
<text x="223.5" y="43.14" class="lg">u2(t)</text>
<path d="M202.3 50.21H221.3" stroke="#ff66ff" stroke-width="1.3" />
<text x="223.5" y="53.71" class="lg">u3(t)</text>
<text x="112.55" y="218.3" class="cap" font-style="italic">α</text>
<text x="122.48" y="218.3" class="cap">=</text>
<text x="135.51" y="218.3" class="cap">1</text>
<text x="141" y="218.3" class="cap">/</text>
<text x="145.99" y="218.3" class="cap">8</text>
<text x="153.55" y="218.3" class="cap" font-style="italic">f</text>
<text x="160.48" y="218.3" class="cap" font-style="italic">s</text>
<clipPath id="c_p2"><rect x="327.5" y="12.4" width="212.9" height="159"/></clipPath>
<path d="M343.54 12.4V171.4M422.12 12.4V171.4M500.7 12.4V171.4M327.5 171.4H540.4M327.5 131.65H540.4M327.5 91.9H540.4M327.5 52.15H540.4M327.5 12.4H540.4" stroke="#e3e3e3" stroke-width="0.8" fill="none"/>
<g clip-path="url(#c_p2)" fill="none" stroke-linejoin="bevel">
<path d="M327.5 114.3 349 111.5 365.2 108.2 375.4 24.4 382.4 100.7 388.7 165.7 394.1 128 398.5 117.8 402.5 101.4 406.1 118 409.4 104 412.3 106 415.1 108 417.6 110 419.9 122 422.1 106 424.2 108 426.1 106.5 428 118 429.7 112.7 431.4 112 433 114 434.5 115 436 122 437.4 118 438.7 112 440 109.6 441.2 109 442.4 110.6 443.58 122.95" stroke="#9a9a9a" stroke-width="0.6" stroke-dasharray="1.3 0.7"/>
<path d="M443.58 122.95 444.69 115.03 445.78 107.34 446.83 125.84 447.85 110.87 448.84 108.45 449.8 115.84 450.73 124.47 451.64 108.9 452.53 114.6 453.39 122.97 454.24 114.98 455.06 117.82 455.86 122.3 456.65 111.44 457.41 121.07 458.16 122.18 458.9 113.72 459.62 118.52 460.32 114.16 461.01 114.85 461.68 111.12 462.35 155.68 463 118.29 463.64 119.95 464.26 116.38 464.88 110.59 465.48 114.65 466.07 138 466.66 108.6 467.23 127.41 467.79 114.2 468.35 129.13 468.9 118.1 469.43 121.73 469.96 140.7 470.48 120.04 471 108.87 471.5 123.26 472 149.88 472.49 120.3 472.98 116.77 473.45 115 473.92 118.47 474.39 121.57 474.85 110.32 475.3 112.18 475.74 124.77 476.18 141.88 476.62 116.97 477.05 103.27 477.47 109.04 477.89 118.68 478.31 106.93 478.71 116.45 479.12 108.62 479.52 131.54 479.91 155.58 480.3 126.6 480.69 117.18 481.07 111.6 481.45 104.33 481.82 106.93 482.19 130.11 482.55 129.48 482.91 107.25 483.27 106.45 483.62 114.85 483.97 108.95 484.32 117.06 484.66 110.11 485 116.22 485.34 108.73 485.67 109.26 486 102.43 486.33 121.93 486.65 135.49 486.97 115.51 487.29 127.47 487.61 116.21 487.92 106.06 488.23 124.42 488.53 106.38 488.84 122.06 489.14 106.99 489.43 105.51 489.73 100.04 490.02 106.78 490.31 141.51 490.6 96.47 490.89 122.98 491.17 114.4 491.45 104.34 491.73 110.39 492.01 113.8 492.28 144.43 492.55 113.33 492.82 117.25 493.09 104.67 493.35 126.55 493.62 105.28 493.88 101.2 494.14 116.3 494.4 124.07 494.65 109.01 494.91 105.6 495.16 108.14 495.41 121.53 495.66 125.05 495.9 102.89 496.15 99.61 496.39 151.44 496.63 108.33 496.87 102.04 497.11 125.14 497.34 115.74 497.58 106.71 497.81 112.36 498.04 124.88 498.27 130.21 498.5 101.37 498.73 104.87 498.95 121.39 499.18 117.09 499.4 112.97 499.62 101.13 499.84 106.47 500.06 113.13 500.27 105.99 500.49 160.51 500.7 98.07 500.92 112.45 501.13 118.63 501.34 118.58 501.55 107.92 501.75 130.57 501.96 111.17 502.17 110.71 502.37 99.96 502.57 116.29 502.77 136.95 502.97 132.42 503.17 103.12 503.37 109.96 503.57 120.64 503.76 104.66 503.96 129.42 504.15 109.92 504.34 98.62 504.53 142.28 504.72 122.37 504.91 111.16 505.1 103.62 505.29 102.73 505.47 110.87 505.66 120.79 505.84 99.45 506.03 108.61 506.21 120.47 506.39 130.98 506.57 127.26 506.75 108.4 506.93 133.67 507.1 140.02 507.28 151.02 507.46 104.77 507.63 118.03 507.8 100.64 507.98 106.77 508.15 109.23 508.32 112.46 508.49 104.27 508.66 110.22 508.83 104.02 509 115.94 509.16 117.19 509.33 110.78 509.49 132.41 509.66 119.9 509.82 114.09 509.98 114.05 510.15 104.15 510.31 106.15 510.47 112.39 510.63 105.5 510.79 119.85 510.95 121.88 511.1 109.98 511.26 103.27 511.42 107.71 511.57 118.13 511.73 106.11 511.88 110.75 512.03 119.95 512.19 111.57 512.34 105.39 512.49 125.28 512.64 110.67 512.79 138.6 512.94 108.53 513.09 95.05 513.24 119.79 513.38 111.22 513.53 113.64 513.68 115.85 513.82 112.72 513.97 111 514.11 99.15 514.26 109.5 514.4 111.57 514.54 103.33 514.68 102.56 514.83 108.43 514.97 118.24 515.11 108.55 515.25 121.81 515.38 109.6 515.52 144.96 515.66 112.15 515.8 122.24 515.94 125.72 516.07 102.12 516.21 107.02 516.34 126.74 516.48 105.91 516.61 127.38 516.74 118.36 516.88 97.42 517.01 113.7 517.14 111.45 517.27 140.49 517.4 131.35 517.54 129.52 517.67 107.94 517.79 118.2 517.92 110.82 518.05 111.6 518.18 104.71 518.31 113.4 518.43 106.19 518.56 116.43 518.69 98.02 518.81 96.94 518.94 118.3 519.06 115.28 519.19 111.69 519.31 113.75 519.44 117.43 519.56 105.49 519.68 114.49 519.8 105.91 519.92 105.23 520.05 120.23 520.17 103.24 520.29 102.8 520.41 117.26 520.53 113.98 520.65 108 520.76 105.82 520.88 105.61 521 140.26 521.12 115.17 521.23 111.15 521.35 123.59 521.47 118.27 521.58 116.34 521.7 119.02 521.81 117.99 521.93 119.37 522.04 113.25 522.16 104.99 522.27 115.9 522.38 104.08 522.5 102.75 522.61 111.54 522.72 123.96 522.83 105.78 522.94 124.09 523.06 105.83 523.17 125.21 523.28 140.52 523.39 108.39 523.5 93.96 523.61 102.5 523.71 105.69 523.82 106.82 523.93 116.53 524.04 105.85 524.15 101.46 524.25 100.82 524.36 100.27 524.47 106.62 524.57 105.87 524.68 116.94 524.78 138.81 524.89 141.83 524.99 116.01 525.1 148.02 525.2 104.11 525.31 117.78 525.41 107.8 525.51 127.86 525.62 103.45 525.72 146.62 525.82 107.91 525.92 110.13 526.02 116.56 526.13 107.43 526.23 113.75 526.33 104.71 526.43 103.54 526.53 118.91 526.63 105.22 526.73 108.12 526.83 120.82 526.93 106.21 527.03 106.05 527.12 102.2 527.22 111.65 527.32 114.04 527.42 110.85 527.52 125.09 527.61 109.73 527.71 110.23 527.81 131 527.9 116.65 528 118.04 528.09 104.36 528.19 140.97 528.28 112.71 528.38 105.08 528.47 112.68 528.57 114.93 528.66 132.78 528.76 100.32 528.85 111.75 528.94 104.85 529.04 119.75 529.13 112.54 529.22 113.89 529.31 118.17 529.41 109.03 529.5 96.76 529.59 105.55 529.68 130.51 529.77 105.17 529.86 104.27 529.95 117.04 530.04 123.46 530.13 126.46 530.22 104.65 530.31 116.57 530.4 108.83 530.49 120.35 530.58 118.9 530.67 100.08 530.76 138.99 530.85 98.53 530.94 110.93 531.02 99.6 531.11 141.37 531.2 106.4 531.29 124.71 531.37 117.62 531.46 99.83 531.55 109.48 531.63 114.58 531.72 105.88 531.8 100.54 531.89 107.33 531.98 103.93 532.06 115.73 532.15 140.72 532.23 107 532.31 121.57 532.4 116.25 532.48 125.53 532.57 105.1 532.65 106.48 532.73 110.09 532.82 114.92 532.9 127.96 532.98 101.21 533.07 105.16 533.15 118.45 533.23 117.44 533.31 119.56 533.4 110.34 533.48 110.98 533.56 105.45 533.64 105.19 533.72 107.88 533.8 106.99 533.88 138.17 533.96 111.25 534.04 114.05 534.12 137.68 534.2 102.7 534.28 106.72 534.36 126.12 534.44 112.95 534.52 116.78 534.6 110.41 534.68 117.17 534.76 119.09 534.84 119.22 534.92 104.04 534.99 109.37 535.07 115.51 535.15 120.1 535.23 107.49 535.31 117.52 535.38 99.47 535.46 117.47 535.54 106.65 535.61 102.4 535.69 105.07 535.77 130.29 535.84 109.19 535.92 110.99 535.99 116.55 536.07 117.81 536.15 112.08 536.22 110.71 536.3 108.01 536.37 106.56 536.45 103.37 536.52 106.6 536.6 123.64 536.67 130.91 536.74 112.88 536.82 126.45 536.89 108.27 536.97 102.07 537.04 109.15 537.11 126.78 537.19 105.12 537.26 104.12 537.33 120.19 537.41 112.1 537.48 108.75 537.55 137.47 537.62 106.33 537.7 118.53 537.77 127.45 537.84 116.94 537.91 116.98 537.98 98.47 538.05 161.34 538.13 104.22 538.2 139.72 538.27 113.92 538.34 155.28 538.41 103.98 538.48 105.65 538.55 107.34 538.62 106.6 538.69 136.36 538.76 108.15 538.83 102 538.9 118.15 538.97 111.92 539.04 110.63 539.11 120.79 539.18 98.16 539.25 100.72 539.32 111.61 539.39 103.64 539.45 92.36 539.52 106.17 539.59 123.84 539.66 118.5 539.73 108.85 539.79 105.19 539.86 110.02 539.93 111.41 540 106.48 540.07 111.45 540.13 117.77 540.2 118.08 540.27 98.7 540.33 118.11 540.4 122.33" stroke="#3a3a3a" stroke-width="0.5" />
<path d="M327.5 114.3 349 111.5 365.2 108.2 375.4 24.4 382.4 100.7 388.7 165.7 394.1 128 398.5 117.8 402.5 101.4 406.1 121.8 409.4 105.5 412.3 109.6 415.1 111.6 417.6 115.7 419.9 134 422.1 110.6 424.2 113.7 426.1 112.7 428 136 429.7 119.8 431.4 117.8 433 119.8 434.5 123.9 436 137 437.4 133 438.7 130 440 127 441.2 125 442.4 125.3 444 128 445.5 134 447 130 448.5 142 450 138 451.5 146 454 145 457 147 460 149 463 151 465 152 466.07 152.91 466.66 152.46 467.23 160.86 467.79 148.97 468.35 143.64 468.9 146.38 469.43 159.36 469.96 151.43 470.48 143.4 471 168.24 471.5 149.72 472 153.07 472.49 155.15 472.98 150.5 473.45 149.34 473.92 162.63 474.39 151.25 474.85 138.45 475.3 159.19 475.74 145.89 476.18 171.84 476.62 146.49 477.05 151.26 477.47 150.14 477.89 143.87 478.31 148.37 478.71 142.96 479.12 141.03 479.52 143.11 479.91 147.84 480.3 155.54 480.69 154.81 481.07 142.84 481.45 142.86 481.82 152.38 482.19 154.72 482.55 150.55 482.91 148.57 483.27 147.4 483.62 168.38 483.97 146.83 484.32 150.11 484.66 146.63 485 144.52 485.34 148.62 485.67 149.56 486 163.22 486.33 151.59 486.65 144.95 486.97 146.8 487.29 159.13 487.61 148.51 487.92 154.07 488.23 152.4 488.53 151.01 488.84 148.57 489.14 154.86 489.43 150.83 489.73 159.38 490.02 158.87 490.31 161.81 490.6 153.18 490.89 155.9 491.17 151.76 491.45 161.19 491.73 149.83 492.01 149.9 492.28 157.39 492.55 157.78 492.82 154.68 493.09 155.35 493.35 149.58 493.62 154.87 493.88 148.02 494.14 150.8 494.4 160.49 494.65 160.9 494.91 161.51 495.16 157.25 495.41 150.15 495.66 156.9 495.9 156.34 496.15 154.29 496.39 155.18 496.63 160.4 496.87 155.05 497.11 171.45 497.34 162.28 497.58 159.93 497.81 158.99 498.04 152.02 498.27 174.02 498.5 154.7 498.73 159.35 498.95 164.46 499.18 164.25 499.4 168.81 499.62 164.27 499.84 163.78 500.06 153.3 500.27 160.55 500.49 163.99 500.7 159.43 500.92 164.6 501.13 170.71 501.34 158.25 501.55 160.95 501.75 162.56 501.96 162.93 502.17 158.23 502.37 162.72 502.57 178.17 502.77 153.92 502.97 156.67 503.17 165.35 503.37 163.85 503.57 161.7 503.76 163.62 503.96 163.85 504.15 165.6 504.34 164.93 504.53 187.96 504.72 166.32 504.91 158.78 505.1 166.3 505.29 158.46 505.47 156.23 505.66 172.47 505.84 175.55 506.03 167.88 506.21 170.54 506.39 178.25 506.57 158.55 506.75 164.83 506.93 165.89 507.1 168.77 507.28 161.98 507.46 164.26 507.63 172.07 507.8 178.11 507.98 168.31 508.15 171.15 508.32 162.62 508.49 171.22 508.66 170.32 508.83 167.19 509 172.06 509.16 171.8 509.33 163.2 509.49 182.45 509.66 173.46 509.82 166.09 509.98 173.15 510.15 168.37 510.31 165.43 510.47 180.54 510.63 169.08 510.79 167.37 510.95 178.54 511.1 170.12 511.26 164.84 511.42 178.24 511.57 169.87 511.73 179.57 511.88 172.71 512.03 166.65 512.19 166.81 512.34 173.1 512.49 177.42 512.64 173.91 512.79 172.24 512.94 167.96 513.09 176.98 513.24 172.29 513.38 171.89 513.53 164.3 513.68 173.81 513.82 177.28 513.97 176.04 514.11 169.16 514.26 172.42 514.4 167.79 514.54 164.25 514.68 170.6 514.83 171.31 514.97 168.86 515.11 168.93 515.25 169.07 515.38 168.11 515.52 179.7 515.66 170.77 515.8 180 515.94 169.02 516.07 178.14 516.21 174.05 516.34 169.52 516.48 168.07 516.61 170.56 516.74 175.02 516.88 170.08 517.01 168.41 517.14 178.89 517.27 172.08 517.4 177.38 517.54 172.62 517.67 176.18 517.79 173.73 517.92 171.69 518.05 181.58 518.18 174.5 518.31 168.45 518.43 177.22 518.56 168.11 518.69 172.69 518.81 172.7 518.94 180.54 519.06 163.04 519.19 173.56 519.31 175.61 519.44 176.17 519.56 168.81 519.68 169.76 519.8 168.85 519.92 169.03 520.05 171.15 520.17 171.23 520.29 169 520.41 168.1 520.53 179.23 520.65 175.09 520.76 167.03 520.88 172.81 521 176.26 521.12 175.09 521.23 166.97 521.35 179.14 521.47 167.4 521.58 169.75 521.7 173.56 521.81 171.53 521.93 179.19 522.04 169.95 522.16 169.93 522.27 187.27 522.38 171.82 522.5 180.35 522.61 173.23 522.72 168.52 522.83 166.39 522.94 172.23 523.06 187.55 523.17 169.5 523.28 170.49 523.39 170.02 523.5 170.06 523.61 172.43 523.71 168.75 523.82 168.15 523.93 165.86 524.04 170.55 524.15 178.29 524.25 171.03 524.36 173.65 524.47 168.56 524.57 170.64 524.68 172.26 524.78 175.35 524.89 171.19 524.99 171.86 525.1 180.96 525.2 171.78 525.31 173.31 525.41 169.14 525.51 172.88 525.62 170.78 525.72 171.94 525.82 176.71 525.92 172.22 526.02 169.42 526.13 168.93 526.23 169.68 526.33 179.45 526.43 172.52 526.53 173.34 526.63 170.16 526.73 169.34 526.83 174.47 526.93 175.54 527.03 173.08 527.12 167.46 527.22 176.71 527.32 169.98 527.42 172.35 527.52 171.73 527.61 168.9 527.71 168.64 527.81 172.47 527.9 166.39 528 173.31 528.09 179.15 528.19 167.32 528.28 176 528.38 169.64 528.47 170.95 528.57 167.52 528.66 166.37 528.76 178.67 528.85 183.46 528.94 176.43 529.04 171.92 529.13 183.1 529.22 180.29 529.31 171.67 529.41 176.78 529.5 170.95 529.59 176.99 529.68 169.32 529.77 176.95 529.86 172.99 529.95 170.69 530.04 168.1 530.13 187.47 530.22 176.59 530.31 172.12 530.4 170.19 530.49 171.03 530.58 174.12 530.67 166.99 530.76 177.92 530.85 174.23 530.94 173.45 531.02 172.47 531.11 175.02 531.2 176.07 531.29 174.81 531.37 173.33 531.46 179.17 531.55 170.6 531.63 173.07 531.72 182.88 531.8 169.45 531.89 177.31 531.98 182.86 532.06 174.7 532.15 172.63 532.23 177.53 532.31 171.08 532.4 179.4 532.48 175.07 532.57 171.89 532.65 184.14 532.73 181.39 532.82 166.62 532.9 173.15 532.98 178.72 533.07 173.78 533.15 174.62 533.23 174.94 533.31 172.22 533.4 186.65 533.48 170.8 533.56 175.99 533.64 177.8 533.72 167.62 533.8 183.51 533.88 173.9 533.96 177.04 534.04 177.68 534.12 175.43 534.2 168.23 534.28 172.15 534.36 176.62 534.44 169.64 534.52 172.21 534.6 184.05 534.68 170.76 534.76 174.04 534.84 181.85 534.92 170.52 534.99 170.77 535.07 167.88 535.15 175.67 535.23 176.76 535.31 177.46 535.38 175.14 535.46 179.1 535.54 177.98 535.61 173.27 535.69 180.75 535.77 170.88 535.84 178.36 535.92 173.2 535.99 174.06 536.07 166.96 536.15 175.33 536.22 175.08 536.3 173.56 536.37 178.11 536.45 178.79 536.52 174.88 536.6 173.39 536.67 178.23 536.74 181.52 536.82 171 536.89 175.25 536.97 172.33 537.04 180.73 537.11 185.43 537.19 186.57 537.26 175.71 537.33 172.92 537.41 176.57 537.48 175.54 537.55 171.52 537.62 177.37 537.7 172.5 537.77 175.18 537.84 172.02 537.91 171.35 537.98 173 538.05 175.36 538.13 176.44 538.2 172.23 538.27 172.15 538.34 174.63 538.41 174.97 538.48 174.34 538.55 174.34 538.62 172.21 538.69 171.26 538.76 173.52 538.83 171.08 538.9 173.93 538.97 171.32 539.04 170.28 539.11 170.57 539.18 179.4 539.25 175.45 539.32 176.87 539.39 175.8 539.45 187.45 539.52 173.52 539.59 177.35 539.66 178.05 539.73 172.33 539.79 178.01 539.86 178.52 539.93 179.16 540 171.59 540.07 168.67 540.13 171.5 540.2 169.35 540.27 176.98 540.33 173.3 540.4 176.48" stroke="#4646ff" stroke-width="0.8" />
<path d="M391 172.5 397.3 162.7 403.4 170.8 407.4 157.5 412.6 148.4 415.2 165.7 417.7 147.3 420.7 145.3 422.8 138.2 424.8 141.2 426.8 133.5 429.9 164.7 432.3 137.1 435 133 437 147.3 439 134 441.1 118.8 443.2 120.8 444.6 129 445.78 126.33 446.83 121.09 447.85 129.06 448.84 111.94 449.8 102.29 450.73 93.5 451.64 113.46 452.53 118.05 453.39 124.66 454.24 115.64 455.06 117 455.86 123.3 456.65 132.31 457.41 122.59 458.16 123.52 458.9 103.2 459.6 47.5 460.32 117.24 461.01 106.1 461.68 111.35 462.35 148.71 463 105.29 463.64 104.69 464.26 101.18 464.88 115.39 465.48 151.48 466.07 115.14 466.66 123.35 467.23 108.49 467.79 108.5 468.35 104.73 468.9 101.2 469.43 106.61 469.96 120.66 470.48 108.88 471 129.73 471.5 118.47 472 120.42 472.49 112.33 472.98 108.43 473.45 114.6 473.92 124.88 474.39 121.36 474.85 107.8 475.3 118.27 475.74 113.97 476.18 132.65 476.62 140.11 477.05 139.16 477.47 116.96 477.89 116.62 478.31 133.82 478.71 116.65 479.12 129.74 479.52 110.66 479.91 142.91 480.3 120.09 480.69 126.94 481.07 136.2 481.45 143.8 481.82 111.86 482.19 120.54 482.55 128.44 482.91 117.65 483.27 136.05 483.62 172.32 483.97 145.64 484.32 122.72 484.66 124.36 485 133.93 485.34 115.04 485.67 148.97 486 112.61 486.33 131.66 486.65 124.73 486.97 154.95 487.29 165.42 487.61 136.49 487.92 137.76 488.23 135.58 488.53 111.68 488.84 140.8 489.14 136.8 489.43 127.87 489.73 162.88 490.02 127.32 490.31 132.77 490.6 150.16 490.89 144.08 491.17 120.29 491.45 131.42 491.73 168.44 492.01 134.66 492.28 156.52 492.55 131.43 492.82 136.82 493.09 131.05 493.35 128.93 493.62 125.8 493.88 157.35 494.14 149.81 494.4 140.17 494.65 138.02 494.91 124.78 495.16 177.65 495.41 129.67 495.66 142.45 495.9 148.79 496.15 143 496.39 149.1 496.63 159.64 496.87 164.16 497.11 147.41 497.34 179.04 497.58 136.85 497.81 142.6 498.04 125.9 498.27 128.39 498.5 136.63 498.73 158.83 498.95 187.18 499.18 144.64 499.4 142.63 499.62 140.06 499.84 137.62 500.06 160.18 500.27 145.16 500.49 172.44 500.7 154.6 500.92 165.13 501.13 158.35 501.34 165.52 501.55 177.69 501.75 152.18 501.96 160.74 502.17 169.19 502.37 154.62 502.57 197.98 502.77 149.52 502.97 157.14 503.17 158.5 503.37 157.6 503.57 155.89 503.76 174.25 503.96 168.41 504.15 158.69 504.34 183.31 504.53 174.69 504.72 155.42 504.91 162.36 505.1 184.16 505.29 159.85 505.47 178.56 505.66 176.32 505.84 162.31 506.03 170.58 506.21 202.96 506.39 159.68 506.57 174.61 506.75 178.38 506.93 161.39 507.1 168.38 507.28 169.29 507.46 175.75 507.63 166.05 507.8 178.51 507.98 170.47 508.15 172.09 508.32 168.12 508.49 173.89 508.66 163.34 508.83 156.15 509 172.98 509.16 164.64 509.33 168.78 509.49 163.7 509.66 165.46 509.82 185.18 509.98 167.14 510.15 169.14 510.31 175.02 510.47 164.35 510.63 161.29 510.79 165.75 510.95 165.46 511.1 170.48 511.26 171.91 511.42 169.59 511.57 166.79 511.73 186.98 511.88 168 512.03 168.78 512.19 174.03 512.34 170.97 512.49 167.09 512.64 182 512.79 171.75 512.94 165.73 513.09 163.31 513.24 161.47 513.38 183.83 513.53 171.38 513.68 174.09 513.82 166.19 513.97 163.12 514.11 172.88 514.26 182.47 514.4 174.16 514.54 183.47 514.68 166.26 514.83 180.06 514.97 171.19 515.11 169.11 515.25 180.41 515.38 159.98 515.52 170.03 515.66 165.46 515.8 176.47 515.94 178.06 516.07 166.28 516.21 167.62 516.34 162.37 516.48 176.26 516.61 177.77 516.74 168.59 516.88 178.52 517.01 179.66 517.14 176.59 517.27 169.84 517.4 186.35 517.54 173.85 517.67 175.68 517.79 173.85 517.92 187.1 518.05 181.9 518.18 164.53 518.31 165.51 518.43 188.84 518.56 171.71 518.69 163.29 518.81 169.62 518.94 176.53 519.06 175.16 519.19 180.4 519.31 166.03 519.44 186.24 519.56 173.73 519.68 172.37 519.8 187.36 519.92 172.3 520.05 176.33 520.17 169.88 520.29 176.51 520.41 172.64 520.53 165.62 520.65 170.16 520.76 168.03 520.88 166.83 521 169.29 521.12 172.15 521.23 175.27 521.35 169.03 521.47 167.14 521.58 175.47 521.7 167.5 521.81 177.18 521.93 176.81 522.04 180.65 522.16 188.93 522.27 172.98 522.38 170.5 522.5 180.49 522.61 163.85 522.72 180.51 522.83 189 522.94 168.12 523.06 199.53 523.17 177.83 523.28 179.18 523.39 177.23 523.5 183.66 523.61 165.21 523.71 172.15 523.82 175.01 523.93 178.22 524.04 172.07 524.15 195.29 524.25 175.77 524.36 173.14 524.47 178.17 524.57 178.49 524.68 170.94 524.78 177.1 524.89 171.44 524.99 164.33 525.1 174.3 525.2 177.16 525.31 171 525.41 166.1 525.51 169.84 525.62 178.53 525.72 170.33 525.82 172.24 525.92 181.1 526.02 166.79 526.13 170.86 526.23 176.42 526.33 168.71 526.43 177.85 526.53 180.89 526.63 176.95 526.73 175.98 526.83 172.7 526.93 183.35 527.03 170.27 527.12 168.64 527.22 168.87 527.32 176.18 527.42 172.56 527.52 174.5 527.61 177.01 527.71 202.95 527.81 164.29 527.9 171.75 528 186.11 528.09 184.64 528.19 177.36 528.28 174.39 528.38 167.11 528.47 177.26 528.57 177.82 528.66 177.73 528.76 173.39 528.85 171.12 528.94 169.92 529.04 185.94 529.13 165.99 529.22 187.37 529.31 184.85 529.41 171.7 529.5 175.31 529.59 187.13 529.68 182.8 529.77 197.76 529.86 190.4 529.95 167.89 530.04 171.3 530.13 190.03 530.22 179.61 530.31 171.94 530.4 175.42 530.49 164.47 530.58 169.12 530.67 180.86 530.76 190.28 530.85 175.88 530.94 171.06 531.02 166.24 531.11 171.36 531.2 171.63 531.29 187.93 531.37 173.81 531.46 179.37 531.55 178.04 531.63 165.22 531.72 176.84 531.8 206.25 531.89 168.08 531.98 176.11 532.06 179.93 532.15 172.87 532.23 185.55 532.31 169.73 532.4 187.23 532.48 186.87 532.57 170.8 532.65 171.35 532.73 173.48 532.82 175.47 532.9 168.34 532.98 169.52 533.07 176.57 533.15 167.55 533.23 173.48 533.31 180.18 533.4 174.35 533.48 172.11 533.56 177.75 533.64 186.88 533.72 171.39 533.8 182.2 533.88 175.63 533.96 177.55 534.04 168.92 534.12 178.78 534.2 184.02 534.28 182.14 534.36 174.88 534.44 168.75 534.52 172.83 534.6 179.51 534.68 191.67 534.76 181.12 534.84 198.67 534.92 176.16 534.99 168.91 535.07 174.8 535.15 178 535.23 166.44 535.31 167.77 535.38 170.61 535.46 170.62 535.54 172.75 535.61 172.62 535.69 185.81 535.77 172.97 535.84 170.4 535.92 180.4 535.99 184.11 536.07 176.43 536.15 167.06 536.22 178.46 536.3 179.99 536.37 171.86 536.45 177.41 536.52 197.45 536.6 167.29 536.67 172.22 536.74 174.5 536.82 182.65 536.89 171.37 536.97 170.67 537.04 171.69 537.11 181.11 537.19 180.86 537.26 185.25 537.33 172.37 537.41 178.94 537.48 179.35 537.55 169.99 537.62 179.09 537.7 180.23 537.77 174.07 537.84 188.09 537.91 189.38 537.98 177.73 538.05 180.69 538.13 174.97 538.2 185.98 538.27 175.9 538.34 167.54 538.41 174.42 538.48 173.7 538.55 188.74 538.62 182.53 538.69 168.21 538.76 167.37 538.83 170.64 538.9 172.75 538.97 178.41 539.04 178.42 539.11 198.28 539.18 178.82 539.25 181.62 539.32 186.32 539.39 182 539.45 178.9 539.52 179.17 539.59 174.41 539.66 179.1 539.73 185.38 539.79 164.6 539.86 183.26 539.93 171.18 540 173.68 540.07 187.25 540.13 177.89 540.2 172.54 540.27 173.15 540.33 175.18 540.4 181.74" stroke="#20ee20" stroke-width="0.8" />
<path d="M488.23 177.34 488.53 180.14 488.84 175.89 489.14 172.15 489.43 171.98 489.73 173.13 490.02 170.27 490.31 176.08 490.6 170.41 490.89 166.61 491.17 167.64 491.45 169.68 491.73 166.42 492.01 177.19 492.28 167.04 492.55 164.38 492.82 175.94 493.09 167.48 493.35 174.25 493.62 171.26 493.88 161.27 494.14 166.15 494.4 176.36 494.65 171.69 494.91 162.45 495.16 163.79 495.41 167.95 495.66 160.75 495.9 160.55 496.15 159.79 496.39 159.23 496.63 160.81 496.87 153.87 497.11 159.31 497.34 159.41 497.58 162.18 497.81 161.67 498.04 162.6 498.27 161.56 498.5 157.61 498.73 157.66 498.95 167.87 499.18 156.75 499.4 148.21 499.62 153.2 499.84 151.98 500.06 147.03 500.27 158.21 500.49 155.91 500.7 166.3 500.92 159.56 501.13 156.9 501.34 142.39 501.55 170.22 501.75 143.92 501.96 158.78 502.17 151.93 502.37 146.49 502.57 146.93 502.77 143.32 502.97 152.08 503.17 141.83 503.37 140.99 503.57 141.27 503.76 157.88 503.96 143.02 504.15 160.7 504.34 146.66 504.53 153.37 504.72 139.57 504.91 146.97 505.1 160.37 505.29 153.17 505.47 140.02 505.66 145.83 505.84 129.46 506.03 133.8 506.21 137.68 506.39 137.96 506.57 140.38 506.75 141.74 506.93 141.26 507.1 156.9 507.28 141.85 507.46 130.78 507.63 126.3 507.8 132.74 507.98 140.79 508.15 149.3 508.32 133.44 508.49 143.61 508.66 127.24 508.83 134.93 509 129.71 509.16 126.57 509.33 133.83 509.49 137.77 509.66 130.35 509.82 148.05 509.98 131.05 510.15 118.61 510.31 130 510.47 134.9 510.63 135.1 510.79 135.97 510.95 131.96 511.1 130.99 511.26 126.48 511.42 128.14 511.57 141.09 511.73 131.53 511.88 146.4 512.03 137.25 512.19 138.2 512.34 124.63 512.49 128.16 512.64 137.09 512.79 125.95 512.94 122.99 513.09 142.69 513.24 135.09 513.38 118.47 513.53 125.57 513.68 115.98 513.82 133.04 513.97 119.71 514.11 124.23 514.26 117.28 514.4 151.25 514.54 108.26 514.68 118.67 514.83 150.38 514.97 142.65 515.11 120.45 515.25 119.15 515.38 126.49 515.52 142.44 515.66 121.44 515.8 114.42 515.94 118.94 516.07 119.6 516.21 129.72 516.34 114.74 516.48 131.48 516.61 119.11 516.74 146.64 516.88 130.1 517.01 118.67 517.14 126.92 517.27 138.81 517.4 128.63 517.54 104.48 517.67 103.5 517.79 123.77 517.92 116.83 518.05 106.29 518.18 115.13 518.31 115.89 518.43 123.56 518.56 118.33 518.69 110.87 518.81 111.41 518.94 105.92 519.06 120.86 519.19 110.24 519.31 118.59 519.44 123 519.56 117.02 519.68 108.82 519.8 123.17 519.92 120.43 520.05 109.44 520.17 124.32 520.29 112.14 520.41 133.84 520.53 141.81 520.65 126.2 520.76 109.91 520.88 130.53 521 72.4 521.12 107.38 521.23 109.99 521.35 110.91 521.47 118.97 521.58 122.3 521.7 106.13 521.81 115.7 521.93 108.83 522.04 102.82 522.16 144.63 522.27 122.1 522.38 148.67 522.5 152.75 522.61 107.93 522.72 118.55 522.83 113.49 522.94 118.6 523.06 133.71 523.17 104.05 523.28 112.87 523.39 119.13 523.5 114.56 523.61 122.32 523.71 109.7 523.82 115.65 523.93 119.55 524.04 113.06 524.15 113.2 524.25 110.09 524.36 123.4 524.47 126.01 524.57 114.47 524.68 121 524.78 120.7 524.89 109.88 524.99 119.31 525.1 131.82 525.2 114.91 525.31 121.99 525.41 111.45 525.51 119.89 525.62 117.59 525.72 111.61 525.82 135.73 525.92 133.78 526.02 116.56 526.13 122.81 526.23 129.14 526.33 140.18 526.43 127.46 526.53 127.48 526.63 136.64 526.73 123.37 526.83 118.78 526.93 127.03 527.03 119.59 527.12 111.77 527.22 115.71 527.32 120.2 527.42 131.73 527.52 129.97 527.61 120.62 527.71 115.06 527.81 120.81 527.9 121.6 528 142.36 528.09 117.92 528.19 123.97 528.28 139.16 528.38 126.48 528.47 129.04 528.57 119.06 528.66 124.79 528.76 124.34 528.85 135.61 528.94 123.2 529.04 132.99 529.13 143.36 529.22 134.01 529.31 150.82 529.41 137.3 529.5 124.89 529.59 131.87 529.68 147.95 529.77 130.34 529.86 136.79 529.95 126.57 530.04 127.91 530.13 140.64 530.22 143.88 530.31 129.7 530.4 136.71 530.49 131.57 530.58 134.33 530.67 124.75 530.76 147.42 530.85 138.85 530.94 127.82 531.02 139.99 531.11 164.49 531.2 148.89 531.29 127.05 531.37 140.98 531.46 143.68 531.55 158.51 531.63 146.57 531.72 137.72 531.8 127.29 531.89 145.64 531.98 141.17 532.06 171.58 532.15 131.28 532.23 138.93 532.31 158.91 532.4 139.78 532.48 147.88 532.57 137.77 532.65 149.99 532.73 131 532.82 140.6 532.9 148.9 532.98 143.03 533.07 143.24 533.15 134.63 533.23 128.54 533.31 147.96 533.4 137.75 533.48 140.44 533.56 149.33 533.64 149.58 533.72 142.66 533.8 150.27 533.88 138.73 533.96 136.88 534.04 151.67 534.12 155.64 534.2 144.65 534.28 150.07 534.36 160.6 534.44 165.87 534.52 144.1 534.6 142.8 534.68 137.74 534.76 141.72 534.84 151.37 534.92 139.42 534.99 150.91 535.07 175.9 535.15 145.15 535.23 144.88 535.31 149.8 535.38 143.03 535.46 143.62 535.54 168.6 535.61 152.84 535.69 145.08 535.77 149.29 535.84 159.44 535.92 166.58 535.99 143.54 536.07 148.4 536.15 151.67 536.22 148.34 536.3 146.28 536.37 143.42 536.45 146.2 536.52 153.86 536.6 158.14 536.67 157.49 536.74 140.34 536.82 157.79 536.89 161.76 536.97 152.33 537.04 164.76 537.11 159.26 537.19 166.39 537.26 156.48 537.33 162.56 537.41 154.44 537.48 152.85 537.55 152.87 537.62 146.75 537.7 172.44 537.77 158.92 537.84 158.38 537.91 158.87 537.98 162.89 538.05 161.93 538.13 155.03 538.2 157.4 538.27 158.28 538.34 158.59 538.41 158.52 538.48 151.35 538.55 150.36 538.62 169.65 538.69 161.39 538.76 169.33 538.83 152.11 538.9 165.44 538.97 159.57 539.04 164.93 539.11 179.14 539.18 154.05 539.25 157.41 539.32 159.53 539.39 159.4 539.45 152.98 539.52 164.61 539.59 155.8 539.66 170.49 539.73 175.3 539.79 201.11 539.86 158.66 539.93 158.2 540 157.55 540.07 173.69 540.13 170.31 540.2 164.28 540.27 165.15 540.33 166.48 540.4 152.51" stroke="#ff38ff" stroke-width="0.9" />
</g>
<path d="M331.37 171.4v-1.3M331.37 12.4v1.3M335.92 171.4v-1.3M335.92 12.4v1.3M339.94 171.4v-1.3M339.94 12.4v1.3M343.54 171.4v-2.2M343.54 12.4v2.2M367.2 171.4v-1.3M367.2 12.4v1.3M381.03 171.4v-1.3M381.03 12.4v1.3M390.85 171.4v-1.3M390.85 12.4v1.3M398.47 171.4v-1.3M398.47 12.4v1.3M404.69 171.4v-1.3M404.69 12.4v1.3M409.95 171.4v-1.3M409.95 12.4v1.3M414.51 171.4v-1.3M414.51 12.4v1.3M418.53 171.4v-1.3M418.53 12.4v1.3M422.12 171.4v-2.2M422.12 12.4v2.2M445.78 171.4v-1.3M445.78 12.4v1.3M459.62 171.4v-1.3M459.62 12.4v1.3M469.43 171.4v-1.3M469.43 12.4v1.3M477.05 171.4v-1.3M477.05 12.4v1.3M483.27 171.4v-1.3M483.27 12.4v1.3M488.53 171.4v-1.3M488.53 12.4v1.3M493.09 171.4v-1.3M493.09 12.4v1.3M497.11 171.4v-1.3M497.11 12.4v1.3M500.7 171.4v-2.2M500.7 12.4v2.2M524.36 171.4v-1.3M524.36 12.4v1.3M538.2 171.4v-1.3M538.2 12.4v1.3M327.5 171.4h2.2M540.4 171.4h-2.2M327.5 159.43h1.3M540.4 159.43h-1.3M327.5 152.43h1.3M540.4 152.43h-1.3M327.5 147.47h1.3M540.4 147.47h-1.3M327.5 143.62h1.3M540.4 143.62h-1.3M327.5 140.47h1.3M540.4 140.47h-1.3M327.5 137.81h1.3M540.4 137.81h-1.3M327.5 135.5h1.3M540.4 135.5h-1.3M327.5 133.47h1.3M540.4 133.47h-1.3M327.5 131.65h2.2M540.4 131.65h-2.2M327.5 119.68h1.3M540.4 119.68h-1.3M327.5 112.68h1.3M540.4 112.68h-1.3M327.5 107.72h1.3M540.4 107.72h-1.3M327.5 103.87h1.3M540.4 103.87h-1.3M327.5 100.72h1.3M540.4 100.72h-1.3M327.5 98.06h1.3M540.4 98.06h-1.3M327.5 95.75h1.3M540.4 95.75h-1.3M327.5 93.72h1.3M540.4 93.72h-1.3M327.5 91.9h2.2M540.4 91.9h-2.2M327.5 79.93h1.3M540.4 79.93h-1.3M327.5 72.93h1.3M540.4 72.93h-1.3M327.5 67.97h1.3M540.4 67.97h-1.3M327.5 64.12h1.3M540.4 64.12h-1.3M327.5 60.97h1.3M540.4 60.97h-1.3M327.5 58.31h1.3M540.4 58.31h-1.3M327.5 56h1.3M540.4 56h-1.3M327.5 53.97h1.3M540.4 53.97h-1.3M327.5 52.15h2.2M540.4 52.15h-2.2M327.5 40.18h1.3M540.4 40.18h-1.3M327.5 33.18h1.3M540.4 33.18h-1.3M327.5 28.22h1.3M540.4 28.22h-1.3M327.5 24.37h1.3M540.4 24.37h-1.3M327.5 21.22h1.3M540.4 21.22h-1.3M327.5 18.56h1.3M540.4 18.56h-1.3M327.5 16.25h1.3M540.4 16.25h-1.3M327.5 14.22h1.3M540.4 14.22h-1.3M327.5 12.4h2.2M540.4 12.4h-2.2" stroke="#444" stroke-width="0.8" fill="none"/>
<rect x="327.5" y="12.4" width="212.9" height="159" stroke="#707070" stroke-width="0.85" fill="none"/>
<text x="324.5" y="176.9" text-anchor="end" class="tl">10<tspan dy="-4.7" class="sup">-1</tspan></text>
<text x="324.5" y="137.15" text-anchor="end" class="tl">10<tspan dy="-4.7" class="sup">0</tspan></text>
<text x="324.5" y="97.4" text-anchor="end" class="tl">10<tspan dy="-4.7" class="sup">1</tspan></text>
<text x="324.5" y="57.65" text-anchor="end" class="tl">10<tspan dy="-4.7" class="sup">2</tspan></text>
<text x="324.5" y="17.9" text-anchor="end" class="tl">10<tspan dy="-4.7" class="sup">3</tspan></text>
<text x="343.54" y="187.2" text-anchor="middle" class="tl">10<tspan dy="-5.0" class="sup">1</tspan></text>
<text x="422.12" y="187.2" text-anchor="middle" class="tl">10<tspan dy="-5.0" class="sup">2</tspan></text>
<text x="500.7" y="187.2" text-anchor="middle" class="tl">10<tspan dy="-5.0" class="sup">3</tspan></text>
<text x="433.95" y="199.8" text-anchor="middle" class="al">frequency(Hz)</text>
<text transform="translate(303.1 91.9) rotate(-90)" text-anchor="middle" class="al">Amplitude</text>
<rect x="487.9" y="17.6" width="48" height="42.4" fill="#fff" stroke="#606060" stroke-width="0.9"/>
<path d="M490.4 23.3H509.4" stroke="#888" stroke-width="0.8" stroke-dasharray="1.5 1"/>
<text x="511" y="26.8" class="lg">signal</text>
<path d="M490.4 33.73H509.4" stroke="#6a74ff" stroke-width="1.3" />
<text x="511" y="37.23" class="lg">u1(t)</text>
<path d="M490.4 44.16H509.4" stroke="#5cf05c" stroke-width="1.3" />
<text x="511" y="47.66" class="lg">u2(t)</text>
<path d="M490.4 54.59H509.4" stroke="#ff66ff" stroke-width="1.3" />
<text x="511" y="58.09" class="lg">u3(t)</text>
<text x="402.95" y="219" class="cap" font-style="italic">α</text>
<text x="412.88" y="219" class="cap">=</text>
<text x="425.91" y="219" class="cap">1</text>
<text x="431.4" y="219" class="cap">/</text>
<text x="436.38" y="219" class="cap">2</text>
<text x="443.95" y="219" class="cap" font-style="italic">f</text>
<text x="450.88" y="219" class="cap" font-style="italic">s</text>
<clipPath id="c_p3"><rect x="37.7" y="239.6" width="213.8" height="160.8"/></clipPath>
<path d="M88.08 239.6V400.4M153.45 239.6V400.4M218.82 239.6V400.4M37.7 372.31H251.5M37.7 339.13H251.5M37.7 305.95H251.5M37.7 272.78H251.5M37.7 239.6H251.5" stroke="#e3e3e3" stroke-width="0.8" fill="none"/>
<g clip-path="url(#c_p3)" fill="none" stroke-linejoin="bevel">
<path d="M37.6 320.3 74.7 320.3 94.2 326 105.7 320.3 113.7 250 120.2 337.6 126 313.2 130.9 316.8 134.5 325.4 137.4 327.8 142.6 348 145.5 324 149.1 315.6 151.6 324 154 325.4 157 320 160.1 314.4 162.6 330 166.2 321.7 171 319.3 173.5 318 176 314.4 178.4 319.3 181.5 321.7 183.43 316.94" stroke="#9a9a9a" stroke-width="0.6" stroke-dasharray="1.3 0.7"/>
<path d="M183.43 316.94 184.04 327.06 184.64 315.08 185.22 322.71 185.79 319.06 186.36 332.12 186.91 330.33 187.45 335.74 187.98 313.15 188.5 321.28 189.01 317.06 189.51 317.6 190.01 318.12 190.49 320.36 190.97 316.9 191.44 320.57 191.9 327.27 192.36 325.17 192.8 338.65 193.24 320.93 193.68 318.77 194.1 321.29 194.52 314.54 194.94 315.54 195.35 322.05 195.75 328.42 196.15 316.21 196.54 326.56 196.92 321.05 197.3 315 197.68 325.35 198.05 335.32 198.42 327.01 198.78 332.55 199.14 319.88 199.49 316.76 199.84 315.14 200.18 315.65 200.52 324.53 200.86 321.65 201.19 327.62 201.52 314.97 201.84 329.37 202.16 315.54 202.48 316.38 202.79 326.13 203.1 320.43 203.41 324.12 203.72 314.84 204.02 334.7 204.31 313.86 204.61 332.47 204.9 310.49 205.19 320.25 205.47 310.78 205.75 314.08 206.03 320.89 206.31 318.53 206.59 314.31 206.86 321.43 207.13 320.86 207.39 319.72 207.66 317.49 207.92 324.06 208.18 320.12 208.43 312.94 208.69 310.59 208.94 322.27 209.19 319.45 209.44 320.09 209.69 319.54 209.93 323.29 210.17 325.6 210.41 316.47 210.65 315.87 210.88 316.91 211.12 322.59 211.35 325.85 211.58 313.57 211.81 323.35 212.03 335.4 212.26 313.05 212.48 314.64 212.7 318.02 212.92 312.35 213.14 314.13 213.35 324.37 213.57 315.45 213.78 318.83 213.99 318.94 214.2 320.41 214.41 325.06 214.62 332.07 214.82 314.26 215.02 330.8 215.23 319.98 215.43 312 215.63 328.3 215.82 343.44 216.02 344.01 216.22 336.06 216.41 307.51 216.6 322.35 216.79 320.5 216.98 340.35 217.17 326.57 217.36 316.64 217.55 326.47 217.73 328.55 217.91 315.93 218.1 330.76 218.28 317.31 218.46 318.95 218.64 314.66 218.82 329.58 218.99 326.47 219.17 329.59 219.34 338.33 219.52 336.52 219.69 317.65 219.86 321.96 220.03 315.23 220.2 323.58 220.37 320.56 220.54 326.74 220.7 313.82 220.87 312.9 221.03 332.28 221.2 314.56 221.36 308.42 221.52 330.1 221.68 319.85 221.84 314.97 222 323.02 222.16 323.25 222.32 340.73 222.47 321.9 222.63 313.32 222.78 321.11 222.94 317.67 223.09 316.96 223.24 354.47 223.39 324.31 223.54 325.8 223.69 323.46 223.84 319.31 223.99 326.53 224.14 318.11 224.29 323.16 224.43 319.37 224.58 313.46 224.72 327.68 224.86 325.33 225.01 334.46 225.15 321.22 225.29 328.26 225.43 323.71 225.57 311.32 225.71 331.24 225.85 313.33 225.99 314.77 226.13 314.26 226.26 331.61 226.4 321.27 226.54 323.81 226.67 324.99 226.8 334.56 226.94 306.52 227.07 314.53 227.2 315.75 227.34 328.2 227.47 321.85 227.6 322.09 227.73 325.93 227.86 323.34 227.98 312.96 228.11 313.14 228.24 336.2 228.37 321.88 228.49 323.48 228.62 328.82 228.75 317.93 228.87 330.23 228.99 328.75 229.12 314.59 229.24 330.87 229.36 311.27 229.49 318.52 229.61 318.88 229.73 312.03 229.85 321 229.97 313.78 230.09 337.46 230.21 312.6 230.33 336.09 230.44 325.35 230.56 308.95 230.68 325.08 230.8 313.73 230.91 320.37 231.03 312.72 231.14 314.81 231.26 365.52 231.37 317.47 231.49 323.92 231.6 323.32 231.71 323.54 231.82 318.68 231.94 323.07 232.05 311.33 232.16 315.92 232.27 311.7 232.38 319.4 232.49 324.21 232.6 314.2 232.71 335.25 232.82 322.8 232.92 311.89 233.03 317.05 233.14 324.95 233.25 321.67 233.35 319.25 233.46 313.22 233.56 316.08 233.67 321.48 233.78 315.22 233.88 334.76 233.98 354.42 234.09 322.21 234.19 319.61 234.29 338.64 234.4 335.17 234.5 321.99 234.6 312.39 234.7 312.64 234.8 322.54 234.9 322.53 235.01 326.11 235.11 339.94 235.21 323.94 235.3 312 235.4 331.64 235.5 333.73 235.6 320.04 235.7 338.39 235.8 321.72 235.89 327.71 235.99 320.25 236.09 336.89 236.18 317.77 236.28 328.9 236.38 324.51 236.47 336.26 236.57 340.6 236.66 314.27 236.76 320.29 236.85 315.01 236.94 326.42 237.04 320.32 237.13 314.79 237.22 316.13 237.32 334.16 237.41 315.73 237.5 327.82 237.59 320.95 237.68 319.85 237.77 313.66 237.87 313.32 237.96 327.75 238.05 322.35 238.14 323.79 238.23 319.01 238.32 317.05 238.4 321.91 238.49 315.77 238.58 339.45 238.67 327.09 238.76 335.36 238.85 322.84 238.93 343.98 239.02 313.48 239.11 320.41 239.19 335.92 239.28 326.52 239.37 324.98 239.45 331.57 239.54 319.51 239.62 324.64 239.71 329.24 239.79 315.38 239.88 329.36 239.96 318.67 240.05 315.54 240.13 327.69 240.21 332.96 240.3 317.48 240.38 328.33 240.46 319.75 240.55 339.98 240.63 331.46 240.71 321.71 240.79 343.9 240.87 320.29 240.96 320.94 241.04 309.18 241.12 327.36 241.2 339.97 241.28 344.38 241.36 320.94 241.44 325.9 241.52 313.78 241.6 312.33 241.68 332.22 241.76 317.5 241.84 333.22 241.92 365.7 241.99 326.34 242.07 326.12 242.15 319.16 242.23 321.66 242.31 337.25 242.38 320.82 242.46 321.79 242.54 356.99 242.62 323.76 242.69 344.95 242.77 315.83 242.84 330.96 242.92 324.85 243 330.53 243.07 329.08 243.15 319.47 243.22 312.23 243.3 317.28 243.37 323.71 243.45 332.02 243.52 317.21 243.6 327.27 243.67 328.43 243.74 342.35 243.82 341.42 243.89 321.98 243.96 331.28 244.04 329.4 244.11 314.78 244.18 338.18 244.25 330.64 244.33 313.84 244.4 314.63 244.47 318.94 244.54 357.09 244.61 337.45 244.69 330.55 244.76 307.1 244.83 333.95 244.9 322.47 244.97 327.26 245.04 315.36 245.11 340.15 245.18 321.5 245.25 323.72 245.32 315.9 245.39 314.86 245.46 324.26 245.53 367.64 245.6 316.24 245.67 340.65 245.74 324.92 245.81 342 245.87 316.53 245.94 348.73 246.01 324.58 246.08 337.62 246.15 317.2 246.21 312.46 246.28 346.19 246.35 319.67 246.42 326.68 246.48 315.33 246.55 337.11 246.62 319.96 246.68 312.36 246.75 317.46 246.82 329.94 246.88 322.84 246.95 324.46 247.01 325.22 247.08 322.54 247.14 338.12 247.21 323.11 247.27 317.57 247.34 345.32 247.4 318.25 247.47 317.11 247.53 320.59 247.6 321.59 247.66 338.77 247.73 333.78 247.79 330.89 247.86 333.92 247.92 321.92 247.98 329.29 248.05 312.8 248.11 310.94 248.17 332.81 248.24 335.37 248.3 325.42 248.36 331.26 248.42 319.86 248.49 337.28 248.55 331.4 248.61 327.19 248.67 339.63 248.73 335.75 248.8 326.83 248.86 316.91 248.92 318.14 248.98 338.48 249.04 331.25 249.1 336.26 249.16 334.4 249.22 318.28 249.29 321.21 249.35 321.79 249.41 334.97 249.47 342.65 249.53 319.98 249.59 331.2 249.65 324.1 249.71 316.72 249.77 325.27 249.83 336.51 249.89 331.44 249.95 326.55 250 335.11 250.06 324.61 250.12 318.07 250.18 313.56 250.24 328.35 250.3 321.08 250.36 326.86 250.42 322.6 250.47 314.34 250.53 343.18 250.59 327.97 250.65 329.1 250.71 333.92 250.76 322.74 250.82 316.65 250.88 335.07 250.94 322.57 250.99 319.99 251.05 315.7 251.11 331.85 251.16 326.56 251.22 312.77 251.28 345.82 251.33 319.68 251.39 330.34 251.45 321.89 251.5 331.06 251.56 328.09 251.61 323.83 251.67 326.43 251.73 316.59 251.78 315.9 251.84 337.02" stroke="#3a3a3a" stroke-width="0.5" />
<path d="M37.6 320.3 74.7 320.3 94.2 326 105.7 320.3 113.7 250 120.2 337.6 126 313.2 130.9 316.8 134.5 325.4 137.4 327.8 142.6 348 145.5 324 149.1 320.5 151.6 327.8 155.2 329 157.7 337.6 160.1 332.7 162.6 347.3 163.8 333.9 166.2 335 168.7 340 172.3 342.4 174.8 347.3 177.2 355.9 179.6 372.9 182.1 387.6 184.5 388.8 186.36 383.38 186.91 378.22 187.45 380.71 187.98 381.58 188.5 374.08 189.01 383.57 189.51 376.62 190.01 370.95 190.49 373.06 190.97 386.85 191.44 375.99 191.9 367.13 192.36 372.94 192.8 376.25 193.24 372.86 193.68 381.39 194.1 382.77 194.52 370.89 194.94 382.31 195.35 359.45 195.75 407.94 196.15 380.08 196.54 364.67 196.92 358.68 197.3 383.47 197.68 391.24 198.05 379.47 198.42 382.85 198.78 371.07 199.14 386.18 199.49 395.09 199.84 365.34 200.18 359.13 200.52 371.95 200.86 363.4 201.19 378.09 201.52 369.35 201.84 368.36 202.16 364.39 202.48 367.51 202.79 365.76 203.1 389.33 203.41 364.5 203.72 364.87 204.02 360.91 204.31 381.44 204.61 365.3 204.9 353.83 205.19 367.5 205.47 357.31 205.75 372.87 206.03 365.73 206.31 371.97 206.59 374.4 206.86 357.94 207.13 380.52 207.39 371.95 207.66 381.47 207.92 399.93 208.18 364.1 208.43 366.06 208.69 367.01 208.94 379.31 209.19 383.51 209.44 377.23 209.69 356.39 209.93 367.08 210.17 366.69 210.41 364.7 210.65 435.45 210.88 362.1 211.12 410.44 211.35 384.1 211.58 386.06 211.81 399.93 212.03 406.5 212.26 354.29 212.48 382.09 212.7 362.08 212.92 374.35 213.14 388.71 213.35 377.5 213.57 379.1 213.78 374.83 213.99 382.22 214.2 388.26 214.41 385.6 214.62 364.24 214.82 372.26 215.02 380.42 215.23 391.45 215.43 384.06 215.63 396.64 215.82 368.86 216.02 370.58 216.22 382.96 216.41 373.85 216.6 382.46 216.79 392.07 216.98 374.08 217.17 381.3 217.36 375.86 217.55 369.88 217.73 382.99 217.91 399.64 218.1 391.18 218.28 387 218.46 401.17 218.64 377.87 218.82 385.54 218.99 398.92 219.17 373.06 219.34 382.58 219.52 393.41 219.69 390.81 219.86 405.8 220.03 387.22 220.2 390.4 220.37 371.86 220.54 376.27 220.7 390.86 220.87 389.45 221.03 380.73 221.2 381.71 221.36 418.87 221.52 394.2 221.68 387.2 221.84 379.63 222 392.7 222.16 400.62 222.32 382.11 222.47 391.23 222.63 371.14 222.78 400.37 222.94 390.62 223.09 377.33 223.24 404.82 223.39 393 223.54 379.24 223.69 386.5 223.84 396.89 223.99 380.27 224.14 369.8 224.29 373.29 224.43 388.11 224.58 388.47 224.72 382.89 224.86 387.93 225.01 392.32 225.15 390.78 225.29 406.75 225.43 379.62 225.57 381.01 225.71 391.04 225.85 381.99 225.99 395.19 226.13 407.46 226.26 376.99 226.4 389.65 226.54 377.05 226.67 390.48 226.8 379.98 226.94 381.58 227.07 385.23 227.2 378.52 227.34 395.56 227.47 386.61 227.6 406.62 227.73 401.71 227.86 385.3 227.98 382.6 228.11 378.2 228.24 394.86 228.37 391.78 228.49 397.87 228.62 390.11 228.75 412.73 228.87 384.32 228.99 392.82 229.12 390.59 229.24 374.44 229.36 400.83 229.49 389.89 229.61 414.37 229.73 398.82 229.85 371.37 229.97 395 230.09 396.16 230.21 397.52 230.33 396.87 230.44 410.27 230.56 385.18 230.68 393.87 230.8 379.67 230.91 395.92 231.03 382.69 231.14 411.84 231.26 385.55 231.37 383.52 231.49 393.34 231.6 391.27 231.71 387.7 231.82 392.96 231.94 381.4 232.05 396.95 232.16 388.29 232.27 408.94 232.38 391.88 232.49 393.56 232.6 401.16 232.71 390.54 232.82 394.59 232.92 378.39 233.03 397.14 233.14 385.62 233.25 402.57 233.35 392.12 233.46 414.38 233.56 382.92 233.67 385.22 233.78 385.22 233.88 419.25 233.98 392.27 234.09 391.82 234.19 398.83 234.29 404.76 234.4 388.57 234.5 399.04 234.6 409.52 234.7 386.65 234.8 393.83 234.9 395.81 235.01 394.19 235.11 400.67 235.21 430.02 235.3 388.41 235.4 380.36 235.5 411.2 235.6 411.6 235.7 405.22 235.8 381.51 235.89 385.88 235.99 400.78 236.09 390.58 236.18 387.62 236.28 385.83 236.38 393.95 236.47 391.57 236.57 385.14 236.66 405.42 236.76 399.63 236.85 398.63 236.94 394.59 237.04 384.51 237.13 421.53 237.22 396.83 237.32 403.16 237.41 397.31 237.5 408.24 237.59 407.78 237.68 388.4 237.77 408.65 237.87 389.4 237.96 381.78 238.05 391.31 238.14 390.96 238.23 395.33 238.32 410.03 238.4 411.62 238.49 397.29 238.58 405.89 238.67 392.2 238.76 378.44 238.85 386.75 238.93 387.67 239.02 405.54 239.11 389.3 239.19 388.8 239.28 414.06 239.37 395.39 239.45 404.95 239.54 387.89 239.62 397.26 239.71 386.62 239.79 406.85 239.88 383.6 239.96 399.8 240.05 386.55 240.13 393.98 240.21 383.28 240.3 389.31 240.38 396.29 240.46 404.07 240.55 391.39 240.63 403.28 240.71 385.8 240.79 401.07 240.87 386.33 240.96 406.54 241.04 420.68 241.12 386.44 241.2 396.5 241.28 391.76 241.36 394.16 241.44 391.71 241.52 393.23 241.6 388.11 241.68 395.5 241.76 383.9 241.84 394.94 241.92 396.31 241.99 396.47 242.07 384.91 242.15 394.41 242.23 398.98 242.31 389.3 242.38 402.97 242.46 385.21 242.54 393.68 242.62 392.34 242.69 401.79 242.77 402.94 242.84 406.34 242.92 407.3 243 391.68 243.07 417.3 243.15 396.13 243.22 394.88 243.3 394.49 243.37 395.87 243.45 392.41 243.52 384.25 243.6 396.39 243.67 403.86 243.74 400.03 243.82 388.05 243.89 400.96 243.96 400.78 244.04 395.72 244.11 404.04 244.18 417.7 244.25 403.97 244.33 394.85 244.4 396.63 244.47 400.74 244.54 391.12 244.61 413.69 244.69 387.04 244.76 395.56 244.83 389.7 244.9 391.12 244.97 389.37 245.04 408 245.11 400.39 245.18 395.65 245.25 405.26 245.32 400.95 245.39 396.49 245.46 387.85 245.53 401.92 245.6 396.35 245.67 400.14 245.74 410.99 245.81 393.96 245.87 389.12 245.94 393.24 246.01 384.74 246.08 396.9 246.15 408.34 246.21 403.52 246.28 388.51 246.35 390.36 246.42 401.46 246.48 402.08 246.55 399.26 246.62 396.85 246.68 395.16 246.75 393.64 246.82 404.8 246.88 392.2 246.95 395.99 247.01 407.55 247.08 415.48 247.14 393.8 247.21 393.05 247.27 400.12 247.34 402.61 247.4 391.62 247.47 389.79 247.53 403.3 247.6 391.36 247.66 394.57 247.73 386.15 247.79 413.38 247.86 401.78 247.92 401.81 247.98 408.48 248.05 394.17 248.11 396.64 248.17 399.5 248.24 407.62 248.3 390.78 248.36 408.68 248.42 409.67 248.49 403.17 248.55 395.87 248.61 395.09 248.67 392.92 248.73 418.14 248.8 402.48 248.86 392.98 248.92 397.98 248.98 405.23 249.04 400.95 249.1 390.77 249.16 396.68 249.22 398.13 249.29 413.12 249.35 390.06 249.41 397.54 249.47 401.45 249.53 413.91 249.59 402.83 249.65 396.26 249.71 398.23 249.77 402.67 249.83 396.11 249.89 412.08 249.95 408.48 250 417.39 250.06 406.38 250.12 423 250.18 393.87 250.24 394.21 250.3 392.41 250.36 399.62 250.42 407.22 250.47 401.35 250.53 403.03 250.59 402.82 250.65 396.1 250.71 396.62 250.76 406.67 250.82 407.95 250.88 398.3 250.94 402.75 250.99 393.63 251.05 398.06 251.11 431.26 251.16 391.4 251.22 416.04 251.28 407.41 251.33 396.24 251.39 396.02 251.45 405.64 251.5 395.83 251.56 397.39 251.61 404.85 251.67 389.15 251.73 392.28 251.78 399.38 251.84 392.39" stroke="#4646ff" stroke-width="0.8" />
<path d="M88.7 400.5 94.5 395.5 105.5 394.2 114.5 391.8 118 390.5 122.3 386.3 129.6 381.5 133.3 384 137 375.4 139.4 390 141.8 373 145.5 363 149.1 355.9 151.6 360.7 155.2 351 157.7 353.4 160.1 343.7 162.6 338.8 165 332.7 167.4 336.3 169.9 327.8 173.5 320.5 176 321.7 178.4 330.2 180.9 319.3 182.5 322 183.43 333.67 184.04 319.77 184.7 270 185.22 322.45 185.79 315.75 186.36 323.56 186.91 320.86 187.45 323.98 187.98 328.53 188.5 319.42 189.01 325.32 189.51 338.78 190.01 340.89 190.49 329.11 190.97 338.51 191.44 328.1 191.9 324.75 192.36 338.84 192.8 322.91 193.24 323.27 193.68 326.11 194.1 348.33 194.52 318.7 194.94 331.74 195.35 320.48 195.75 316.78 196.15 323.77 196.54 329.43 196.92 332.3 197.3 326.93 197.68 320.1 198.05 332.6 198.42 335.97 198.78 339.07 199.14 319.72 199.49 321.39 199.84 321.48 200.18 326.27 200.52 319.44 200.86 328.32 201.19 332.47 201.52 321.98 201.84 339.76 202.16 326.78 202.48 338.75 202.79 327.46 203.1 346.49 203.41 353.15 203.72 329.67 204.02 343.82 204.31 324.91 204.61 330.12 204.9 339.3 205.19 342.17 205.47 339.23 205.75 339.93 206.03 333.72 206.31 324.86 206.59 324.35 206.86 331.68 207.13 340.07 207.39 335.37 207.66 331.8 207.92 330.66 208.18 331.24 208.43 337.2 208.69 346.66 208.94 335.49 209.19 365.12 209.44 337.71 209.69 358.52 209.93 332.18 210.17 349.37 210.41 342.57 210.65 346.19 210.88 339.16 211.12 338.9 211.35 339.62 211.58 340.56 211.81 334.53 212.03 344.52 212.26 337.75 212.48 339.31 212.7 337.91 212.92 342.42 213.14 348.92 213.35 340.29 213.57 334.79 213.78 354.42 213.99 353.73 214.2 337.39 214.41 344.75 214.62 355.69 214.82 346.61 215.02 338.58 215.23 343.24 215.43 347.29 215.63 363.21 215.82 345.97 216.02 342.85 216.22 348.75 216.41 346.19 216.6 343.96 216.79 356.25 216.98 352.46 217.17 358.82 217.36 345.32 217.55 344.38 217.73 348.57 217.91 346.37 218.1 349.84 218.28 342.08 218.46 353.65 218.64 356.54 218.82 346.8 218.99 348.89 219.17 348.11 219.34 355.43 219.52 350.74 219.69 349.61 219.86 344.08 220.03 355.33 220.2 355.36 220.37 369.08 220.54 353.06 220.7 346.37 220.87 351.29 221.03 357.55 221.2 357.03 221.36 353.89 221.52 353.53 221.68 352.51 221.84 365.19 222 353.06 222.16 352.05 222.32 353.24 222.47 353.93 222.63 352.27 222.78 353.69 222.94 355.89 223.09 354.54 223.24 356.77 223.39 356.37 223.54 353.28 223.69 367.54 223.84 354.49 223.99 358.72 224.14 349.44 224.29 363.55 224.43 374.42 224.58 356.12 224.72 364.17 224.86 360.13 225.01 358.98 225.15 357.41 225.29 365.87 225.43 366.69 225.57 353.93 225.71 362.2 225.85 355.99 225.99 356.63 226.13 363.51 226.26 355.05 226.4 361.04 226.54 358.54 226.67 363.08 226.8 361.67 226.94 364.69 227.07 358.01 227.2 358.91 227.34 360.74 227.47 358.43 227.6 355.3 227.73 366.31 227.86 357.72 227.98 372.3 228.11 361.2 228.24 360.44 228.37 371.72 228.49 361.82 228.62 358.34 228.75 363.11 228.87 367.06 228.99 354.11 229.12 360.33 229.24 361.76 229.36 365.52 229.49 356.15 229.61 358.43 229.73 367.11 229.85 365.76 229.97 363.15 230.09 372.6 230.21 368.86 230.33 367.07 230.44 367.52 230.56 360.53 230.68 356.72 230.8 366.25 230.91 369.02 231.03 360.23 231.14 361.63 231.26 363.62 231.37 364.43 231.49 370.57 231.6 367.78 231.71 367.55 231.82 363.12 231.94 386.28 232.05 362.86 232.16 367.5 232.27 361.12 232.38 361.19 232.49 363.41 232.6 358.68 232.71 364.76 232.82 362.85 232.92 367.95 233.03 361.7 233.14 365.14 233.25 367.98 233.35 383.87 233.46 372.45 233.56 369.15 233.67 370.43 233.78 362.96 233.88 364.82 233.98 370.24 234.09 373.71 234.19 359.85 234.29 375.32 234.4 370.16 234.5 361.83 234.6 360.63 234.7 374.06 234.8 371.2 234.9 377.98 235.01 373.58 235.11 371.51 235.21 368.66 235.3 366.95 235.4 380.95 235.5 368.35 235.6 367.3 235.7 369.83 235.8 366.85 235.89 377.15 235.99 372 236.09 367.06 236.18 375.24 236.28 377.84 236.38 369.64 236.47 372.6 236.57 368.91 236.66 369.53 236.76 367.31 236.85 368.04 236.94 367.73 237.04 369.32 237.13 368.25 237.22 371.02 237.32 362.74 237.41 367.21 237.5 385.94 237.59 372.84 237.68 367.86 237.77 369.27 237.87 367.83 237.96 367.48 238.05 366.18 238.14 364.8 238.23 372.89 238.32 371.89 238.4 368.07 238.49 371.26 238.58 367.98 238.67 370.62 238.76 365.27 238.85 371.41 238.93 365.98 239.02 370.19 239.11 369.81 239.19 373.91 239.28 364.9 239.37 366.33 239.45 370.38 239.54 366.88 239.62 378.52 239.71 372.86 239.79 380.25 239.88 371.01 239.96 371.9 240.05 366.42 240.13 375.21 240.21 369.08 240.3 370.05 240.38 368.64 240.46 375.74 240.55 375.33 240.63 371.37 240.71 372.62 240.79 377.33 240.87 383.65 240.96 385.97 241.04 368.45 241.12 369.61 241.2 376.61 241.28 380.54 241.36 376.99 241.44 381.08 241.52 376.66 241.6 371.27 241.68 378.22 241.76 384.31 241.84 376.04 241.92 376.47 241.99 372.33 242.07 379.57 242.15 375.55 242.23 374.88 242.31 385.46 242.38 385.12 242.46 368.49 242.54 373.01 242.62 368.23 242.69 371.73 242.77 383.93 242.84 384.9 242.92 371.22 243 377.39 243.07 378.04 243.15 382.53 243.22 385.11 243.3 374.86 243.37 373.25 243.45 387.57 243.52 377.76 243.6 371.58 243.67 372.96 243.74 377.51 243.82 376.38 243.89 377.79 243.96 378.99 244.04 374.32 244.11 385.37 244.18 386.35 244.25 381.76 244.33 377.29 244.4 382.38 244.47 388.34 244.54 375.56 244.61 381.98 244.69 380.53 244.76 391.63 244.83 381.94 244.9 384.31 244.97 368.01 245.04 392.8 245.11 378.75 245.18 370.21 245.25 385.91 245.32 392.65 245.39 375.07 245.46 390.24 245.53 382.91 245.6 386.04 245.67 393.44 245.74 393 245.81 384.2 245.87 383.74 245.94 398.7 246.01 374.75 246.08 378.66 246.15 380.43 246.21 381.45 246.28 383.7 246.35 376.84 246.42 387.45 246.48 378.01 246.55 376.52 246.62 378.46 246.68 382.99 246.75 388.58 246.82 372.93 246.88 386.1 246.95 394.91 247.01 386.95 247.08 371.97 247.14 398.56 247.21 382.79 247.27 394.95 247.34 379.45 247.4 389.8 247.47 381.52 247.53 384.86 247.6 383.24 247.66 383.56 247.73 373.72 247.79 378.56 247.86 411.06 247.92 381.41 247.98 390.87 248.05 387.12 248.11 387.42 248.17 398.76 248.24 375.24 248.3 381.33 248.36 396.58 248.42 386.84 248.49 392 248.55 394.53 248.61 381.64 248.67 381.16 248.73 380.95 248.8 386.42 248.86 377.84 248.92 382.86 248.98 375.38 249.04 380.47 249.1 379.76 249.16 377.99 249.22 383.68 249.29 375.22 249.35 385.76 249.41 387.24 249.47 379.11 249.53 378.83 249.59 386.19 249.65 382.09 249.71 398.1 249.77 395 249.83 388.06 249.89 384.33 249.95 377.56 250 381.26 250.06 398.19 250.12 385.69 250.18 388.51 250.24 402.7 250.3 398.68 250.36 385.03 250.42 381.89 250.47 390.36 250.53 403.56 250.59 391.08 250.65 372.93 250.71 374.96 250.76 385.6 250.82 392.56 250.88 385.19 250.94 408.1 250.99 379.1 251.05 376.97 251.11 388.82 251.16 390.81 251.22 380.57 251.28 386.5 251.33 396.5 251.39 388.82 251.45 390.79 251.5 403.92 251.56 383.95 251.61 396.41 251.67 380.84 251.73 383.99 251.78 381.21 251.84 390.16" stroke="#20ee20" stroke-width="0.8" />
<path d="M196.15 415.86 196.54 401.96 196.92 403.49 197.3 401.83 197.68 402.6 198.05 401.46 198.42 399.67 198.78 403.58 199.14 398.77 199.49 398.77 199.84 395.27 200.18 396.27 200.52 396.15 200.86 398.5 201.19 396.71 201.52 402.37 201.84 397.35 202.16 398.25 202.48 403.52 202.79 393.34 203.1 395.76 203.41 401.79 203.72 392.16 204.02 394.76 204.31 420.22 204.61 393.51 204.9 394.44 205.19 409.04 205.47 394.62 205.75 404.16 206.03 390.36 206.31 387.16 206.59 390.46 206.86 392.69 207.13 394.07 207.39 394.02 207.66 390.47 207.92 386.55 208.18 410.75 208.43 390.72 208.69 382.2 208.94 388.32 209.19 384.55 209.44 388.35 209.69 390.42 209.93 397.68 210.17 384.51 210.41 383.97 210.65 372.79 210.88 385.55 211.12 375.66 211.35 402.61 211.58 382.79 211.81 383.03 212.03 389.43 212.26 381.94 212.48 381.69 212.7 371.8 212.92 407.96 213.14 377.21 213.35 391.07 213.57 382.11 213.78 387.79 213.99 395.3 214.2 384.92 214.41 370.83 214.62 384.03 214.82 373.56 215.02 368.69 215.23 383.24 215.43 372.37 215.63 385.9 215.82 374.23 216.02 378.19 216.22 376 216.41 381.08 216.6 369.74 216.79 378.35 216.98 371.53 217.17 373.29 217.36 371.23 217.55 371.94 217.73 371.1 217.91 363.58 218.1 375.21 218.28 390.14 218.46 370.04 218.64 367.95 218.82 378.77 218.99 375.84 219.17 364.76 219.34 371.32 219.52 366.49 219.69 361.01 219.86 393.41 220.03 382.27 220.2 375.5 220.37 363.36 220.54 362.18 220.7 366.3 220.87 361.48 221.03 384.86 221.2 372.47 221.36 369.61 221.52 370.04 221.68 369.41 221.84 356.77 222 353.61 222.16 365.53 222.32 360.53 222.47 385.68 222.63 359.45 222.78 349.5 222.94 365.17 223.09 382.92 223.24 361.68 223.39 373.69 223.54 350.14 223.69 391.02 223.84 360.54 223.99 380.55 224.14 367.04 224.29 355.85 224.43 358.84 224.58 356.1 224.72 346.9 224.86 359.69 225.01 362.25 225.15 363.22 225.29 362.04 225.43 384.31 225.57 401.73 225.71 361.85 225.85 363.31 225.99 360.33 226.13 356.69 226.26 368.35 226.4 348.09 226.54 368 226.67 350.78 226.8 354.78 226.94 353.43 227.07 362.77 227.2 352.93 227.34 341.75 227.47 352.52 227.6 353.28 227.73 349.83 227.86 361.57 227.98 367.7 228.11 342.54 228.24 358.66 228.37 350.64 228.49 352.39 228.62 341.61 228.75 345.6 228.87 346.01 228.99 344.04 229.12 349.9 229.24 353.46 229.36 347.11 229.49 343.33 229.61 339.91 229.73 347.31 229.85 383.97 229.97 330.44 230.09 350.85 230.21 329.82 230.33 352.07 230.44 350.67 230.56 339.48 230.68 331.93 230.8 342.31 230.91 329.31 231.03 344.82 231.14 351.6 231.26 344.6 231.37 330.47 231.49 341.01 231.6 330.14 231.71 345.18 231.82 352.31 231.94 349.58 232.05 331.88 232.16 342.85 232.27 351.49 232.38 340 232.49 343.93 232.6 342.16 232.71 326.38 232.82 316.51 232.92 329.12 233.03 334.61 233.14 378.07 233.25 314.58 233.35 332.93 233.46 328.07 233.56 319.97 233.67 336.56 233.78 325.55 233.88 323.73 233.98 335.93 234.09 322.21 234.19 334.4 234.3 292.5 234.4 331.94 234.5 321.69 234.6 352.47 234.7 329.44 234.8 335.44 234.9 339.1 235.01 333.82 235.11 336.88 235.21 319.77 235.3 337.22 235.4 342.72 235.5 345.71 235.6 353.31 235.7 329.3 235.8 328.76 235.89 319.71 235.99 329.51 236.09 336.8 236.18 332.01 236.28 340.23 236.38 339.22 236.47 343.57 236.57 348.82 236.66 348.95 236.76 324.44 236.85 343.25 236.94 327.3 237.04 328.74 237.13 329.92 237.22 355.93 237.32 357.37 237.41 340.83 237.5 350.45 237.59 349.75 237.68 325.44 237.77 333.68 237.87 334.49 237.96 346.8 238.05 341.73 238.14 339.88 238.23 341.2 238.32 347.63 238.4 340.01 238.49 347.15 238.58 344.82 238.67 358.49 238.76 353.56 238.85 340.34 238.93 340.33 239.02 350.27 239.11 335.09 239.19 345.06 239.28 339.49 239.37 377.6 239.45 344.46 239.54 334.45 239.62 348.65 239.71 342.39 239.79 375.22 239.88 339.33 239.96 364.58 240.05 351.99 240.13 350.9 240.21 343.06 240.3 335.09 240.38 348.45 240.46 356.28 240.55 374.78 240.63 345.31 240.71 334.2 240.79 343.13 240.87 343.07 240.96 355.04 241.04 348.16 241.12 362.45 241.2 340.86 241.28 360.62 241.36 368.02 241.44 355.61 241.52 360.01 241.6 364.59 241.68 354.72 241.76 355.68 241.84 353.76 241.92 354.14 241.99 346.91 242.07 359 242.15 345.07 242.23 348.12 242.31 356.9 242.38 350.83 242.46 352.36 242.54 341.81 242.62 348.84 242.69 401.54 242.77 353.96 242.84 349.44 242.92 355.73 243 352.67 243.07 356.52 243.15 358.75 243.22 403.02 243.3 350.68 243.37 350.5 243.45 364.69 243.52 353.95 243.6 359.67 243.67 361.69 243.74 367.06 243.82 355.24 243.89 361.1 243.96 354.68 244.04 362.95 244.11 354.39 244.18 360.7 244.25 358.05 244.33 359.79 244.4 358.8 244.47 355.47 244.54 362.42 244.61 370.96 244.69 368.75 244.76 364.68 244.83 370 244.9 364.46 244.97 360.95 245.04 373.72 245.11 364.06 245.18 368.54 245.25 355.38 245.32 361.74 245.39 380.88 245.46 375.6 245.53 352.73 245.6 367.67 245.67 351.23 245.74 362.32 245.81 363.82 245.87 356.81 245.94 363.9 246.01 349.59 246.08 354.11 246.15 366 246.21 363.63 246.28 361.67 246.35 367.83 246.42 367.32 246.48 358.23 246.55 362.55 246.62 368.42 246.68 362.87 246.75 373.39 246.82 371.45 246.88 360.76 246.95 354.35 247.01 363.69 247.08 370.57 247.14 359.92 247.21 356.99 247.27 361.32 247.34 365.5 247.4 369.15 247.47 360.68 247.53 374.47 247.6 360.8 247.66 366.46 247.73 353.7 247.79 373.51 247.86 375.18 247.92 389.7 247.98 364.69 248.05 367.94 248.11 385.47 248.17 363.53 248.24 373.78 248.3 377.58 248.36 369.25 248.42 369.13 248.49 369.56 248.55 369.82 248.61 399.39 248.67 366.91 248.73 367 248.8 370.33 248.86 364.62 248.92 367.02 248.98 374.5 249.04 381.38 249.1 383.96 249.16 382.24 249.22 392.75 249.29 369.99 249.35 388.25 249.41 370.44 249.47 366.98 249.53 385.31 249.59 375.2 249.65 378.21 249.71 368.01 249.77 377.39 249.83 367.92 249.89 372.39 249.95 399.19 250 370.52 250.06 369.71 250.12 367.6 250.18 371.22 250.24 387.62 250.3 383.9 250.36 370.95 250.42 376.07 250.47 383.44 250.53 376.3 250.59 399.17 250.65 371.27 250.71 380.05 250.76 376.67 250.82 366.74 250.88 394.35 250.94 365.12 250.99 392.31 251.05 377.46 251.11 379.45 251.16 383.84 251.22 386.8 251.28 388.53 251.33 378.44 251.39 370.02 251.45 377.83 251.5 367.44 251.56 365.41 251.61 381.66 251.67 383.75 251.73 375.52 251.78 377.72 251.84 369.8" stroke="#ff38ff" stroke-width="0.9" />
</g>
<path d="M42.39 400.4v-1.3M42.39 239.6v1.3M53.9 400.4v-1.3M53.9 239.6v1.3M62.06 400.4v-1.3M62.06 239.6v1.3M68.4 400.4v-1.3M68.4 239.6v1.3M73.57 400.4v-1.3M73.57 239.6v1.3M77.95 400.4v-1.3M77.95 239.6v1.3M81.74 400.4v-1.3M81.74 239.6v1.3M85.09 400.4v-1.3M85.09 239.6v1.3M88.08 400.4v-2.2M88.08 239.6v2.2M107.75 400.4v-1.3M107.75 239.6v1.3M119.27 400.4v-1.3M119.27 239.6v1.3M127.43 400.4v-1.3M127.43 239.6v1.3M133.77 400.4v-1.3M133.77 239.6v1.3M138.94 400.4v-1.3M138.94 239.6v1.3M143.32 400.4v-1.3M143.32 239.6v1.3M147.11 400.4v-1.3M147.11 239.6v1.3M150.45 400.4v-1.3M150.45 239.6v1.3M153.45 400.4v-2.2M153.45 239.6v2.2M173.12 400.4v-1.3M173.12 239.6v1.3M184.64 400.4v-1.3M184.64 239.6v1.3M192.8 400.4v-1.3M192.8 239.6v1.3M199.14 400.4v-1.3M199.14 239.6v1.3M204.31 400.4v-1.3M204.31 239.6v1.3M208.69 400.4v-1.3M208.69 239.6v1.3M212.48 400.4v-1.3M212.48 239.6v1.3M215.82 400.4v-1.3M215.82 239.6v1.3M218.82 400.4v-2.2M218.82 239.6v2.2M238.49 400.4v-1.3M238.49 239.6v1.3M250 400.4v-1.3M250 239.6v1.3M37.7 395.5h1.3M251.5 395.5h-1.3M37.7 389.66h1.3M251.5 389.66h-1.3M37.7 385.51h1.3M251.5 385.51h-1.3M37.7 382.3h1.3M251.5 382.3h-1.3M37.7 379.67h1.3M251.5 379.67h-1.3M37.7 377.45h1.3M251.5 377.45h-1.3M37.7 375.52h1.3M251.5 375.52h-1.3M37.7 373.83h1.3M251.5 373.83h-1.3M37.7 372.31h2.2M251.5 372.31h-2.2M37.7 362.32h1.3M251.5 362.32h-1.3M37.7 356.48h1.3M251.5 356.48h-1.3M37.7 352.33h1.3M251.5 352.33h-1.3M37.7 349.12h1.3M251.5 349.12h-1.3M37.7 346.49h1.3M251.5 346.49h-1.3M37.7 344.27h1.3M251.5 344.27h-1.3M37.7 342.35h1.3M251.5 342.35h-1.3M37.7 340.65h1.3M251.5 340.65h-1.3M37.7 339.13h2.2M251.5 339.13h-2.2M37.7 329.14h1.3M251.5 329.14h-1.3M37.7 323.3h1.3M251.5 323.3h-1.3M37.7 319.16h1.3M251.5 319.16h-1.3M37.7 315.94h1.3M251.5 315.94h-1.3M37.7 313.31h1.3M251.5 313.31h-1.3M37.7 311.09h1.3M251.5 311.09h-1.3M37.7 309.17h1.3M251.5 309.17h-1.3M37.7 307.47h1.3M251.5 307.47h-1.3M37.7 305.95h2.2M251.5 305.95h-2.2M37.7 295.97h1.3M251.5 295.97h-1.3M37.7 290.12h1.3M251.5 290.12h-1.3M37.7 285.98h1.3M251.5 285.98h-1.3M37.7 282.76h1.3M251.5 282.76h-1.3M37.7 280.14h1.3M251.5 280.14h-1.3M37.7 277.92h1.3M251.5 277.92h-1.3M37.7 275.99h1.3M251.5 275.99h-1.3M37.7 274.3h1.3M251.5 274.3h-1.3M37.7 272.78h2.2M251.5 272.78h-2.2M37.7 262.79h1.3M251.5 262.79h-1.3M37.7 256.95h1.3M251.5 256.95h-1.3M37.7 252.8h1.3M251.5 252.8h-1.3M37.7 249.59h1.3M251.5 249.59h-1.3M37.7 246.96h1.3M251.5 246.96h-1.3M37.7 244.74h1.3M251.5 244.74h-1.3M37.7 242.82h1.3M251.5 242.82h-1.3M37.7 241.12h1.3M251.5 241.12h-1.3M37.7 239.6h2.2M251.5 239.6h-2.2" stroke="#444" stroke-width="0.8" fill="none"/>
<rect x="37.7" y="239.6" width="213.8" height="160.8" stroke="#707070" stroke-width="0.85" fill="none"/>
<text x="34.7" y="377.81" text-anchor="end" class="tl">10<tspan dy="-4.7" class="sup">-1</tspan></text>
<text x="34.7" y="344.63" text-anchor="end" class="tl">10<tspan dy="-4.7" class="sup">0</tspan></text>
<text x="34.7" y="311.45" text-anchor="end" class="tl">10<tspan dy="-4.7" class="sup">1</tspan></text>
<text x="34.7" y="278.28" text-anchor="end" class="tl">10<tspan dy="-4.7" class="sup">2</tspan></text>
<text x="34.7" y="245.1" text-anchor="end" class="tl">10<tspan dy="-4.7" class="sup">3</tspan></text>
<text x="88.08" y="416.2" text-anchor="middle" class="tl">10<tspan dy="-5.0" class="sup">1</tspan></text>
<text x="153.45" y="416.2" text-anchor="middle" class="tl">10<tspan dy="-5.0" class="sup">2</tspan></text>
<text x="218.82" y="416.2" text-anchor="middle" class="tl">10<tspan dy="-5.0" class="sup">3</tspan></text>
<text x="144.6" y="429.1" text-anchor="middle" class="al">frequency(Hz)</text>
<text transform="translate(13.3 320) rotate(-90)" text-anchor="middle" class="al">Amplitude</text>
<rect x="198.3" y="244.5" width="48" height="43.9" fill="#fff" stroke="#606060" stroke-width="0.9"/>
<path d="M200.8 250.6H219.8" stroke="#888" stroke-width="0.8" stroke-dasharray="1.5 1"/>
<text x="221.7" y="254.1" class="lg">signal</text>
<path d="M200.8 261.07H219.8" stroke="#6a74ff" stroke-width="1.3" />
<text x="221.7" y="264.57" class="lg">u1(t)</text>
<path d="M200.8 271.54H219.8" stroke="#5cf05c" stroke-width="1.3" />
<text x="221.7" y="275.04" class="lg">u2(t)</text>
<path d="M200.8 282.01H219.8" stroke="#ff66ff" stroke-width="1.3" />
<text x="221.7" y="285.51" class="lg">u3(t)</text>
<text x="118.75" y="445.1" class="cap" font-style="italic">α</text>
<text x="128.48" y="445.1" class="cap">=</text>
<text x="141.51" y="445.1" class="cap">1</text>
<text x="148.25" y="445.1" class="cap" font-style="italic">f</text>
<text x="154.48" y="445.1" class="cap" font-style="italic">s</text>
<clipPath id="c_p4"><rect x="327.6" y="240" width="214" height="160.2"/></clipPath>
<path d="M343.72 240V400.2M422.71 240V400.2M501.7 240V400.2M327.6 400.2H541.6M327.6 360.15H541.6M327.6 320.1H541.6M327.6 280.05H541.6M327.6 240H541.6" stroke="#e3e3e3" stroke-width="0.8" fill="none"/>
<g clip-path="url(#c_p4)" fill="none" stroke-linejoin="bevel">
<path d="M327.6 357.6 349 349 365.8 340.6 375.2 252.5 382.5 320 389 364.3 393.9 344.3 397.2 336.6 402.7 332.2 407.2 347.7 410.5 341 412.7 344.3 416 333.3 420.5 347.7 424.5 352.1 427.1 326.6 430.5 348.8 433.8 343.2 437 346 440.4 341 443.8 337.7 447 327.7 450 336 453.5 332 455.82 338.34" stroke="#9a9a9a" stroke-width="0.6" stroke-dasharray="1.3 0.7"/>
<path d="M455.82 338.34 456.62 350.54 457.41 348.96 458.18 347.36 458.94 355.93 459.68 340.14 460.4 345.59 461.11 348.54 461.8 339.25 462.48 341.83 463.14 355.74 463.8 349.89 464.44 341.96 465.07 336.29 465.69 339.22 466.29 359.7 466.89 345.64 467.48 350.32 468.05 349.45 468.62 344.41 469.18 334.66 469.73 351.78 470.27 348.11 470.8 356.81 471.32 333.72 471.84 343.47 472.35 348.34 472.85 347 473.34 334.45 473.83 355.96 474.31 335.74 474.78 338.23 475.25 341.73 475.71 345.47 476.16 331.53 476.61 345.73 477.05 343.3 477.49 346.84 477.92 356.75 478.35 331.25 478.77 338 479.18 334.4 479.6 335.11 480 330.67 480.4 347.07 480.8 330.5 481.19 344.39 481.58 335.37 481.96 336.64 482.34 341.27 482.72 355.85 483.09 341.59 483.45 327.48 483.82 342.18 484.18 332.93 484.53 344.49 484.88 350.01 485.23 329.1 485.58 338.78 485.92 358.82 486.26 339.5 486.59 358.7 486.92 340.3 487.25 340.13 487.57 352.82 487.9 336.97 488.22 335.79 488.53 335.53 488.85 334.33 489.16 327.67 489.46 363.54 489.77 343.62 490.07 332.66 490.37 354.61 490.67 346.33 490.96 335.44 491.25 334.57 491.54 336.87 491.83 335.66 492.12 334.27 492.4 333.91 492.68 337.53 492.96 342.24 493.23 333.69 493.5 330.66 493.78 357.1 494.04 345.52 494.31 344.03 494.58 341.8 494.84 329.65 495.1 336.25 495.36 330.92 495.62 348.32 495.87 344.44 496.12 336.43 496.38 336.69 496.62 331.52 496.87 339.03 497.12 336.72 497.36 350.4 497.61 331.13 497.85 337.58 498.08 327.03 498.32 351.49 498.56 346.81 498.79 336.91 499.02 329.71 499.26 350.45 499.49 340.97 499.71 335.96 499.94 337.24 500.16 337.84 500.39 342.52 500.61 338.69 500.83 342.07 501.05 347.95 501.27 343.63 501.48 341.76 501.7 331.11 501.91 332.17 502.13 343.58 502.34 329.98 502.55 352.61 502.75 335.11 502.96 344.82 503.17 346.46 503.37 335.78 503.58 334.59 503.78 333.33 503.98 342.89 504.18 338.43 504.38 331.1 504.58 333.78 504.77 336.64 504.97 338.36 505.16 334.19 505.36 340.38 505.55 333.98 505.74 343.31 505.93 332.23 506.12 338.37 506.31 339.8 506.49 347.98 506.68 337.9 506.86 349.48 507.05 341.01 507.23 326.19 507.41 336.15 507.59 338.38 507.77 346.3 507.95 327.56 508.13 341.15 508.31 349.97 508.49 335.24 508.66 358.73 508.84 336.13 509.01 336.3 509.18 349.87 509.35 351.38 509.53 332.06 509.7 335.63 509.86 330.7 510.03 335.69 510.2 356.97 510.37 342.81 510.53 340.86 510.7 330.65 510.86 332.7 511.03 333.01 511.19 330.68 511.35 340.17 511.51 344.13 511.67 340.21 511.83 327.36 511.99 345.02 512.15 348.82 512.31 328.31 512.47 330.46 512.62 340.8 512.78 354.44 512.93 349.8 513.09 330.09 513.24 331.47 513.39 336.01 513.55 334.09 513.7 340.28 513.85 347.15 514 342.87 514.15 355.23 514.3 346.11 514.45 348.33 514.59 340.83 514.74 348.19 514.89 339.98 515.03 334.25 515.18 350.67 515.32 339.32 515.47 363.24 515.61 333.37 515.75 337.91 515.89 336.22 516.03 340.98 516.18 380.83 516.32 352 516.46 343.43 516.59 344.79 516.73 337.11 516.87 342.06 517.01 344.93 517.15 329.62 517.28 343.36 517.42 339.99 517.55 339.59 517.69 336.42 517.82 328.18 517.96 341.97 518.09 333.77 518.22 335.52 518.35 342.81 518.49 332.8 518.62 346.32 518.75 348.66 518.88 345.71 519.01 334.07 519.14 337.2 519.27 334.6 519.39 339.3 519.52 339.93 519.65 337.88 519.78 343.48 519.9 351.01 520.03 343.52 520.15 351.63 520.28 338.78 520.4 330.43 520.53 342.6 520.65 350.94 520.77 357.21 520.9 336.14 521.02 333.05 521.14 352.96 521.26 338.31 521.38 344.94 521.5 334.45 521.62 337.78 521.74 342.35 521.86 332.01 521.98 333.41 522.1 337.85 522.22 337.33 522.34 339.22 522.45 351.51 522.57 332.86 522.69 341.17 522.8 337.12 522.92 338.07 523.03 342.65 523.15 347.51 523.26 328.23 523.38 343.36 523.49 339.51 523.6 343.45 523.72 339.34 523.83 336.8 523.94 333.92 524.05 353.56 524.17 338.72 524.28 356.61 524.39 333.77 524.5 338.2 524.61 329.12 524.72 353.86 524.83 336.89 524.94 341.69 525.05 338.88 525.15 359.78 525.26 344.57 525.37 340.5 525.48 331.31 525.58 333.37 525.69 326.39 525.8 353.19 525.9 349.48 526.01 340.54 526.11 351.29 526.22 333.23 526.32 342.49 526.43 327.33 526.53 329.38 526.64 353.34 526.74 335.77 526.84 341.81 526.95 341.3 527.05 350.74 527.15 339.11 527.25 362.97 527.35 353.24 527.46 344.77 527.56 340.13 527.66 329.26 527.76 330.18 527.86 335.34 527.96 357.34 528.06 342.22 528.16 340.9 528.26 335.63 528.35 348.89 528.45 328.86 528.55 339.49 528.65 340.5 528.75 337.28 528.84 347.71 528.94 351.62 529.04 340.03 529.13 351.87 529.23 331.51 529.33 350.72 529.42 347.79 529.52 347.11 529.61 336.28 529.71 336.35 529.8 342.76 529.9 338.29 529.99 377.18 530.08 329.98 530.18 344.64 530.27 337.43 530.36 347.75 530.46 344.23 530.55 329.69 530.64 357.7 530.73 341.94 530.83 331.88 530.92 336.94 531.01 337.86 531.1 338.37 531.19 357.57 531.28 342.66 531.37 343.67 531.46 353.34 531.55 338.39 531.64 343.63 531.73 335.89 531.82 331.09 531.91 352.93 532 360.99 532.09 336.66 532.18 359.58 532.26 342.61 532.35 354.96 532.44 334.96 532.53 381.8 532.61 352.92 532.7 330.9 532.79 347.01 532.87 329.73 532.96 337.89 533.05 338.21 533.13 335.76 533.22 342.25 533.3 346.69 533.39 338.14 533.47 331.93 533.56 349.76 533.64 345.78 533.73 331.18 533.81 337.38 533.89 341.33 533.98 339.45 534.06 345.57 534.15 345.22 534.23 353.14 534.31 336.11 534.39 331.26 534.48 335.44 534.56 331.35 534.64 349.96 534.72 348.1 534.81 339.87 534.89 345.05 534.97 341.05 535.05 336.66 535.13 330.27 535.21 346.67 535.29 330.49 535.37 350.31 535.45 340.53 535.53 330.65 535.61 328 535.69 338.27 535.77 334.43 535.85 342.13 535.93 352.4 536.01 327.72 536.09 340.06 536.17 337.81 536.24 355.77 536.32 330.53 536.4 342.78 536.48 338.06 536.56 341.46 536.63 334.77 536.71 340.19 536.79 344.77 536.87 356.35 536.94 345.22 537.02 329.31 537.1 330.51 537.17 340.58 537.25 344.04 537.32 340.67 537.4 344.31 537.48 343.04 537.55 335.67 537.63 335.8 537.7 360.18 537.78 338.07 537.85 344.43 537.93 340.7 538 340.94 538.07 344.22 538.15 348.2 538.22 337.53 538.3 325.97 538.37 361.72 538.44 344.72 538.52 350.98 538.59 354.33 538.66 332.99 538.74 343.67 538.81 350.21 538.88 339.31 538.95 348.35 539.03 341.62 539.1 333.35 539.17 354.71 539.24 348.04 539.31 358.42 539.39 338.7 539.46 346.33 539.53 335.46 539.6 332.82 539.67 335.45 539.74 341.87 539.81 333.09 539.88 337.4 539.95 354.52 540.02 335.94 540.09 332.07 540.16 344.05 540.23 346.04 540.3 344.06 540.37 344.8 540.44 336.79 540.51 362.54 540.58 354.15 540.65 349.13 540.72 348.7 540.79 338.24 540.85 330.82 540.92 331.99 540.99 348.64 541.06 350.64 541.13 341.55 541.2 345.99 541.26 332.86 541.33 332.9 541.4 343.27 541.47 334.56 541.53 349.09 541.6 349.82" stroke="#3a3a3a" stroke-width="0.5" />
<path d="M327.6 357.6 349 349 365.8 340.6 375.2 252.5 382.5 320 389 364.3 393.9 344.3 397.2 336.6 402.7 332.2 407.2 347.7 410.5 341 412.7 344.3 416 333.3 420.5 347.7 424.5 352.1 427.1 327.7 429.3 353.2 432.7 359.9 435 358 437.1 359.9 439.3 355.4 441.5 364.3 443.8 362 446 357.6 447 365 448.2 371 449.2 362 450.4 377.6 451.5 370 452.6 384.3 453.6 376 455 395.3 456 388 457 402 465.07 401.53 465.69 394.39 466.29 387.25 466.89 391.26 467.48 396.59 468.05 381.19 468.62 381.11 469.18 376.45 469.73 396.82 470.27 382.11 470.8 397.39 471.32 381.47 471.84 378.55 472.35 387.19 472.85 380.14 473.34 392.46 473.83 395.53 474.31 387.9 474.78 381.28 475.25 386.09 475.71 379.37 476.16 390.01 476.61 377.24 477.05 379.82 477.49 383.71 477.92 386.52 478.35 386.1 478.77 396.7 479.18 391.72 479.6 383.9 480 387.31 480.4 380.52 480.8 383.97 481.19 390.35 481.58 386.61 481.96 384.8 482.34 388.42 482.72 388.86 483.09 383.27 483.45 389.43 483.82 381.11 484.18 380.97 484.53 382.45 484.88 397.38 485.23 382.37 485.58 381.49 485.92 382.61 486.26 390.2 486.59 389.51 486.92 393.11 487.25 389.09 487.57 404.15 487.9 393.23 488.22 382.38 488.53 376.59 488.85 387.06 489.16 390.78 489.46 389.08 489.77 389.68 490.07 395.17 490.37 384.06 490.67 382.9 490.96 382.5 491.25 375.98 491.54 380.93 491.83 382.32 492.12 384.79 492.4 387.83 492.68 401.45 492.96 385.5 493.23 387.83 493.5 383.29 493.78 381.83 494.04 391.33 494.31 401.27 494.58 386.16 494.84 380.97 495.1 386.93 495.36 382.07 495.62 387.53 495.87 384.73 496.12 392.63 496.38 396.65 496.62 396.42 496.87 397.47 497.12 401.48 497.36 383.81 497.61 390.78 497.85 391.62 498.08 387.15 498.32 395.47 498.56 383.61 498.79 385.71 499.02 392.77 499.26 395.37 499.49 390.46 499.71 393.36 499.94 400.52 500.16 391.15 500.39 384 500.61 388.42 500.83 383.32 501.05 385.76 501.27 389.09 501.48 387.07 501.7 391.89 501.91 390.46 502.13 395.61 502.34 398.46 502.55 388.42 502.75 401.06 502.96 400.04 503.17 398.12 503.37 393.49 503.58 397.5 503.78 395.67 503.98 391.17 504.18 392.96 504.38 394.47 504.58 402.68 504.77 395.11 504.97 399.31 505.16 404.64 505.36 400.25 505.55 406.97 505.74 397.59 505.93 397.64 506.12 402.12 506.31 408.71 506.49 394.95 506.68 399.31 506.86 397.59 507.05 402.41 507.23 397.8 507.41 398.16 507.59 406.84 507.77 395.34 507.95 401.51 508.13 399.77 508.31 404.63 508.49 401.21 508.66 404.53 508.84 400.52 509.01 403.72 509.18 402.73 509.35 403.81 509.53 403.25 509.7 404.44 509.86 404.11 510.03 410.18 510.2 402.76 510.37 402.21 510.53 405.02 510.7 402.31 510.86 407.36 511.03 403.24 511.19 406.47 511.35 405.8 511.51 404.31 511.67 408.27 511.83 407.88 511.99 405.84" stroke="#4646ff" stroke-width="0.8" />
<path d="M407.2 402 413.8 384.3 417.2 378.7 420.5 390.9 423.8 384.3 427.1 362 429.3 373.2 431.6 377.6 434.2 368.7 437.1 364.3 439.3 367.6 441.5 355.4 443.8 352.1 446 344.3 448.2 335.5 449.3 357.6 451.5 340 453.7 333.3 455.82 346.81 456.62 350.98 457.41 354.12 458.18 336.25 458.94 334.95 459.68 343.2 460.6 275.5 461.11 351.03 461.8 338.22 462.48 342.6 463.14 338.82 463.8 331.89 464.44 341.56 465.07 338.48 465.69 339.63 466.29 374.4 466.89 349.82 467.48 346.79 468.05 341.52 468.62 343.74 469.18 334.33 469.73 342.47 470.27 339.35 470.8 352.18 471.32 338.12 471.84 365.43 472.35 346.8 472.85 350.42 473.34 340.98 473.83 350.46 474.31 347.6 474.78 348.56 475.25 355.54 475.71 340.98 476.16 344.28 476.61 367 477.05 349.39 477.49 351.86 477.92 355.35 478.35 352.68 478.77 368.68 479.18 351.56 479.6 371.99 480 352.67 480.4 347.17 480.8 366.17 481.19 368.32 481.58 359.94 481.96 353.13 482.34 353.57 482.72 367.83 483.09 390.72 483.45 347.26 483.82 354.69 484.18 358 484.53 359.63 484.88 356.28 485.23 358.98 485.58 355.31 485.92 361.38 486.26 382.13 486.59 377.92 486.92 356.25 487.25 361.06 487.57 357.91 487.9 369.71 488.22 357.74 488.53 375.78 488.85 356.72 489.16 368.85 489.46 354.64 489.77 371.03 490.07 364.32 490.37 352.94 490.67 365.96 490.96 352.1 491.25 367.31 491.54 364.21 491.83 360.3 492.12 359.25 492.4 364.1 492.68 364.08 492.96 372.88 493.23 361.04 493.5 370.18 493.78 361.75 494.04 379.05 494.31 365.51 494.58 365.11 494.84 368.93 495.1 376.28 495.36 373.55 495.62 375.53 495.87 376.46 496.12 360.81 496.38 358.54 496.62 364.2 496.87 367.34 497.12 380.36 497.36 371.62 497.61 353.98 497.85 365.5 498.08 373.74 498.32 366.58 498.56 368.18 498.79 364.54 499.02 362.92 499.26 362.26 499.49 357.12 499.71 384.03 499.94 374.8 500.16 379.68 500.39 369.57 500.61 377.01 500.83 373.3 501.05 375.97 501.27 359.73 501.48 377.23 501.7 380.72 501.91 364.99 502.13 380.76 502.34 362.72 502.55 368.45 502.75 366.03 502.96 368.48 503.17 374.21 503.37 388.58 503.58 383.7 503.78 374.64 503.98 407.48 504.18 390.39 504.38 375.74 504.58 396.37 504.77 382.59 504.97 368.09 505.16 393.31 505.36 384.58 505.55 375.94 505.74 375.68 505.93 374.31 506.12 381.46 506.31 382.04 506.49 385.48 506.68 373.19 506.86 384.42 507.05 387.31 507.23 399.6 507.41 382.68 507.59 386.98 507.77 393.09 507.95 383.26 508.13 376.88 508.31 386.03 508.49 380.67 508.66 379.08 508.84 380.36 509.01 381.34 509.18 396.13 509.35 388.86 509.53 392.5 509.7 381.24 509.86 393.02 510.03 391.24 510.2 382.14 510.37 388.63 510.53 396.91 510.7 390.81 510.86 389.84 511.03 401.61 511.19 396.14 511.35 400.15 511.51 391.28 511.67 389 511.83 393.03 511.99 389.8 512.15 387.85 512.31 390.39 512.47 416.75 512.62 394.25 512.78 393.57 512.93 399.42 513.09 399.53 513.24 396.68 513.39 404.78 513.55 391.08 513.7 389.93 513.85 393.39 514 396.23 514.15 401.25 514.3 407.46 514.45 394.58 514.59 397.26 514.74 395.32 514.89 394.95 515.03 415.7 515.18 396.77 515.32 396.42 515.47 401.85 515.61 403.13 515.75 398.55 515.89 397.63 516.03 398.34 516.18 413.63 516.32 394.78 516.46 395.13 516.59 403.14 516.73 403.56 516.87 399.66 517.01 399.87 517.15 407.6 517.28 400.07 517.42 401.67 517.55 398.39 517.69 397.7 517.82 402.53 517.96 403.54 518.09 400.34 518.22 397.41 518.35 397.94 518.49 399.51 518.62 408.15 518.75 400.84 518.88 399.42 519.01 402.44 519.14 397.3 519.27 400.36 519.39 400.9 519.52 409.79 519.65 397.97 519.78 405.9 519.9 405.58 520.03 397.89 520.15 397.03 520.28 399.68 520.4 396.75 520.53 397.98 520.65 401.44 520.77 408.85 520.9 404.36 521.02 405.84 521.14 400.07 521.26 399.97 521.38 398.61 521.5 399.78 521.62 399.02 521.74 401.08 521.86 402.1 521.98 401.67 522.1 401.3 522.22 400.63 522.34 402.91 522.45 397.63 522.57 399.47 522.69 405.2 522.8 401.3 522.92 397.76 523.03 400.1 523.15 405.45 523.26 401.92 523.38 403.22 523.49 400.12 523.6 399.52 523.72 400.15 523.83 401.66 523.94 400.08 524.05 405.94 524.17 396.81 524.28 402.01 524.39 399.77 524.5 403.19 524.61 403.43 524.72 400.58 524.83 396.2 524.94 399.18 525.05 399.06 525.15 398.39 525.26 399.67 525.37 401.01 525.48 406.03 525.58 405.22 525.69 399.44 525.8 403.95 525.9 406.21 526.01 408.23 526.11 406.05 526.22 406.91 526.32 397.95 526.43 405.91 526.53 402.91 526.64 401.29 526.74 402.65 526.84 403.27 526.95 406.02 527.05 397.01 527.15 398.09 527.25 399.35 527.35 402.52 527.46 396.99 527.56 397.84 527.66 403.66 527.76 400.36 527.86 409.65 527.96 397.09 528.06 398.87 528.16 406.24 528.26 400.24 528.35 402.07 528.45 408.06 528.55 400.86 528.65 403.59 528.75 402.45 528.84 402.15 528.94 400.27 529.04 399.88 529.13 396.5 529.23 403.93 529.33 399.71 529.42 402.71 529.52 400.68 529.61 400.94 529.71 398.88 529.8 398.34 529.9 399.53 529.99 402.7 530.08 400.08 530.18 401.57 530.27 403.06 530.36 408.33 530.46 399.41 530.55 399.16 530.64 400.12 530.73 399.46 530.83 406.3 530.92 417.23 531.01 407.63 531.1 403.76 531.19 398.43 531.28 403.87 531.37 402.76 531.46 407.03 531.55 405.37 531.64 403.98 531.73 399.3 531.82 402.2 531.91 396.95 532 399.27 532.09 407.43 532.18 403.04 532.26 397.13 532.35 407.12 532.44 400.78 532.53 398.18 532.61 403.46 532.7 405.53 532.79 399.33 532.87 402.03 532.96 400.18 533.05 401.11 533.13 401.68 533.22 402.67 533.3 401.1 533.39 399.51 533.47 400.19 533.56 401.97 533.64 408.21 533.73 407.12 533.81 403.61 533.89 401.15 533.98 404.46 534.06 400.25 534.15 401.16 534.23 407.28 534.31 402.01 534.39 404.01 534.48 396.71 534.56 403.54 534.64 400.63 534.72 401.55 534.81 397.99 534.89 413.58 534.97 403.77 535.05 401.47 535.13 399.79 535.21 409.04 535.29 401.07 535.37 399.56 535.45 402.13 535.53 403.5 535.61 410.72 535.69 401.75 535.77 401.55 535.85 400.64 535.93 398.73 536.01 398.28 536.09 400.74 536.17 412.27 536.24 403.89 536.32 403.12 536.4 405.29 536.48 402 536.56 403.47 536.63 400.99 536.71 402.08 536.79 412.99 536.87 405.15 536.94 416.02 537.02 405.37 537.1 405.52 537.17 399.77 537.25 402.65 537.32 405.08 537.4 401.16 537.48 402.01 537.55 404.16 537.63 403.23 537.7 407.61 537.78 401 537.85 404.58 537.93 400.88 538 402.63 538.07 398.9 538.15 398.39 538.22 405.45 538.3 412.6 538.37 403.28 538.44 402.5 538.52 402.19 538.59 404.57 538.66 402.37 538.74 404.1 538.81 401.74 538.88 400.97 538.95 400.08 539.03 402.01 539.1 404.87 539.17 402.55 539.24 405.31 539.31 405.66 539.39 403.48 539.46 403.15 539.53 404.6 539.6 404.89 539.67 403.18 539.74 402.39 539.81 408.76 539.88 405.95 539.95 405.77 540.02 398.57 540.09 401.22 540.16 403.16 540.23 401.47 540.3 406.37 540.37 408.69 540.44 399.61 540.51 401.62 540.58 401.37 540.65 400.1 540.72 401 540.79 407.73 540.85 410 540.92 400.84 540.99 403.38 541.06 400.97 541.13 402.04 541.2 406.27 541.26 401.2 541.33 407.07 541.4 409.24 541.47 402.1 541.53 402.42 541.6 400.17" stroke="#20ee20" stroke-width="0.8" />
<path d="M486.26 406.27 486.59 405.29 486.92 402.72 487.25 402.58 487.57 403.78 487.9 408.29 488.22 402.17 488.53 399.38 488.85 399.97 489.16 398.75 489.46 402.69 489.77 400.62 490.07 396.34 490.37 400.05 490.67 411.45 490.96 396.35 491.25 398.59 491.54 396.49 491.83 403.35 492.12 403.45 492.4 393.35 492.68 405.33 492.96 402.9 493.23 399.46 493.5 404.34 493.78 395.71 494.04 399.88 494.31 392.95 494.58 399.39 494.84 399.86 495.1 399.13 495.36 391.49 495.62 393.24 495.87 396.37 496.12 396.46 496.38 390.65 496.62 391.38 496.87 402.37 497.12 412.26 497.36 397.82 497.61 397.37 497.85 399.15 498.08 394.04 498.32 394.23 498.56 389.53 498.79 392.19 499.02 403.68 499.26 391.98 499.49 391.18 499.71 396.76 499.94 394 500.16 390.86 500.39 390.58 500.61 385.64 500.83 390.79 501.05 387.05 501.27 389.72 501.48 395.36 501.7 386.51 501.91 392.43 502.13 383.69 502.34 382.4 502.55 398.59 502.75 386.69 502.96 386.27 503.17 386.17 503.37 394.51 503.58 392.39 503.78 395.59 503.98 386.94 504.18 389.71 504.38 400.99 504.58 401.1 504.77 392.55 504.97 378.07 505.16 383.1 505.36 380.18 505.55 399.53 505.74 381.26 505.93 377.79 506.12 375.63 506.31 388.24 506.49 406.7 506.68 383.43 506.86 384.5 507.05 385.05 507.23 383.48 507.41 397.83 507.59 381.5 507.77 375.56 507.95 379.16 508.13 376.95 508.31 368.9 508.49 386.24 508.66 374.62 508.84 381.71 509.01 379.69 509.18 379.34 509.35 365.35 509.53 373.81 509.7 385.27 509.86 372.26 510.03 373.81 510.2 384.79 510.37 374.83 510.53 380.67 510.7 367.63 510.86 388.45 511.03 365.94 511.19 365.47 511.35 378.1 511.51 369.38 511.67 365.19 511.83 360.41 511.99 370.61 512.15 373.51 512.31 367.69 512.47 376.9 512.62 364.68 512.78 375.92 512.93 365.89 513.09 366.78 513.24 361.58 513.39 361.29 513.55 360.35 513.7 358.46 513.85 369.95 514 362.6 514.15 359.98 514.3 362.48 514.45 375.79 514.59 353.12 514.74 355.42 514.89 364.85 515.03 363.07 515.18 365.1 515.32 372.73 515.47 355.69 515.61 371.01 515.75 364.54 515.89 363.76 516.03 352.66 516.18 352.56 516.32 355.05 516.46 355.92 516.59 353.34 516.73 364.86 516.87 360.14 517.01 362.27 517.15 365 517.28 352.17 517.42 348.02 517.55 380.57 517.69 344.69 517.82 363.9 517.96 356.82 518.09 395.89 518.22 364.57 518.35 350.45 518.49 350.57 518.62 364.02 518.75 352.83 518.88 372.67 519.01 349.34 519.14 358.92 519.27 357.87 519.39 364.91 519.52 346.69 519.65 341.85 519.78 345.98 519.9 351.72 520.03 348.94 520.15 348.14 520.28 348.03 520.4 368.08 520.53 364.61 520.65 363.51 520.77 340.03 520.9 352.02 521.02 349.46 521.14 350.89 521.26 340.44 521.38 339.55 521.5 338.05 521.62 335.28 521.74 353.18 521.86 353.8 521.98 355.04 522.1 342.19 522.2 298.8 522.34 346.74 522.45 348.22 522.57 342.81 522.69 348.74 522.8 359.82 522.92 351.83 523.03 360.1 523.15 351.48 523.26 337.44 523.38 347.13 523.49 351.59 523.6 347.21 523.72 374.8 523.83 343.82 523.94 377.21 524.05 347.2 524.17 354.12 524.28 379.98 524.39 350.01 524.5 347.53 524.61 372.81 524.72 347.78 524.83 361.81 524.94 361.06 525.05 353.93 525.15 365.66 525.26 348.59 525.37 358.66 525.48 343.07 525.58 358.61 525.69 357.47 525.8 360.8 525.9 352.9 526.01 347.8 526.11 371.68 526.22 373.84 526.32 352.77 526.43 365.21 526.53 352.77 526.64 364.63 526.74 362.65 526.84 365.22 526.95 352.99 527.05 357.13 527.15 352.39 527.25 360.31 527.35 370.62 527.46 369.48 527.56 352.24 527.66 355.17 527.76 363.17 527.86 365.05 527.96 366.79 528.06 359.34 528.16 365.84 528.26 375.38 528.35 373.83 528.45 363.32 528.55 373.56 528.65 379.18 528.75 357.2 528.84 371 528.94 354.6 529.04 362.62 529.13 359.32 529.23 354.39 529.33 367.41 529.42 361.8 529.52 377.8 529.61 397.61 529.71 368.51 529.8 372.99 529.9 363.24 529.99 390.65 530.08 375.47 530.18 359.67 530.27 365.84 530.36 370.98 530.46 372.99 530.55 374.05 530.64 360.84 530.73 375.27 530.83 357.95 530.92 362.23 531.01 368.74 531.1 361.67 531.19 369.21 531.28 371.57 531.37 365.41 531.46 380.45 531.55 368.18 531.64 377.48 531.73 387.75 531.82 375.84 531.91 373.44 532 370.74 532.09 369.37 532.18 368.2 532.26 378.14 532.35 386.92 532.44 372.19 532.53 383.61 532.61 369.54 532.7 383.13 532.79 377.66 532.87 383.64 532.96 369.41 533.05 387.54 533.13 375.39 533.22 376.2 533.3 378.75 533.39 368.76 533.47 373.27 533.56 383.9 533.64 379.79 533.73 374.6 533.81 377.34 533.89 371.25 533.98 369.32 534.06 380.01 534.15 368.56 534.23 366.76 534.31 373.12 534.39 379.21 534.48 367.68 534.56 392.05 534.64 375.72 534.72 370.49 534.81 396.64 534.89 380.42 534.97 380.35 535.05 382.57 535.13 387.5 535.21 376.63 535.29 389.35 535.37 404.8 535.45 385.01 535.53 368.97 535.61 375.66 535.69 377.97 535.77 377.56 535.85 371.2 535.93 379.05 536.01 376.03 536.09 385.09 536.17 375.27 536.24 381.05 536.32 386.97 536.4 384.3 536.48 376.38 536.56 400.11 536.63 377.29 536.71 389.4 536.79 373.6 536.87 375.45 536.94 382.17 537.02 386.35 537.1 403.13 537.17 376.44 537.25 377.55 537.32 379.19 537.4 377.33 537.48 385.18 537.55 386.66 537.63 382.18 537.7 376.2 537.78 381.12 537.85 386.78 537.93 387.85 538 387.08 538.07 383.61 538.15 384.18 538.22 384.17 538.3 384.43 538.37 391.53 538.44 375 538.52 385.58 538.59 383.25 538.66 384.29 538.74 373.98 538.81 393.35 538.88 384.7 538.95 383.74 539.03 386.54 539.1 391.77 539.17 375.03 539.24 402.59 539.31 394.43 539.39 386.48 539.46 378.92 539.53 387.74 539.6 393.61 539.67 385.67 539.74 385.31 539.81 392.41 539.88 388.53 539.95 388.16 540.02 387.23 540.09 394.23 540.16 383.56 540.23 397.54 540.3 386.81 540.37 406.32 540.44 388.7 540.51 375.22 540.58 384.33 540.65 389.82 540.72 394.24 540.79 389.9 540.85 380.62 540.92 380.79 540.99 385.14 541.06 392.87 541.13 388.13 541.2 398.21 541.26 400.28 541.33 387.26 541.4 406.11 541.47 390.88 541.53 391.94 541.6 396.51" stroke="#ff38ff" stroke-width="0.9" />
</g>
<path d="M331.49 400.2v-1.3M331.49 240v1.3M336.07 400.2v-1.3M336.07 240v1.3M340.11 400.2v-1.3M340.11 240v1.3M343.72 400.2v-2.2M343.72 240v2.2M367.5 400.2v-1.3M367.5 240v1.3M381.41 400.2v-1.3M381.41 240v1.3M391.28 400.2v-1.3M391.28 240v1.3M398.93 400.2v-1.3M398.93 240v1.3M405.19 400.2v-1.3M405.19 240v1.3M410.48 400.2v-1.3M410.48 240v1.3M415.06 400.2v-1.3M415.06 240v1.3M419.1 400.2v-1.3M419.1 240v1.3M422.71 400.2v-2.2M422.71 240v2.2M446.49 400.2v-1.3M446.49 240v1.3M460.4 400.2v-1.3M460.4 240v1.3M470.27 400.2v-1.3M470.27 240v1.3M477.92 400.2v-1.3M477.92 240v1.3M484.18 400.2v-1.3M484.18 240v1.3M489.46 400.2v-1.3M489.46 240v1.3M494.04 400.2v-1.3M494.04 240v1.3M498.08 400.2v-1.3M498.08 240v1.3M501.7 400.2v-2.2M501.7 240v2.2M525.48 400.2v-1.3M525.48 240v1.3M539.39 400.2v-1.3M539.39 240v1.3M327.6 400.2h2.2M541.6 400.2h-2.2M327.6 388.14h1.3M541.6 388.14h-1.3M327.6 381.09h1.3M541.6 381.09h-1.3M327.6 376.09h1.3M541.6 376.09h-1.3M327.6 372.21h1.3M541.6 372.21h-1.3M327.6 369.04h1.3M541.6 369.04h-1.3M327.6 366.35h1.3M541.6 366.35h-1.3M327.6 364.03h1.3M541.6 364.03h-1.3M327.6 361.98h1.3M541.6 361.98h-1.3M327.6 360.15h2.2M541.6 360.15h-2.2M327.6 348.09h1.3M541.6 348.09h-1.3M327.6 341.04h1.3M541.6 341.04h-1.3M327.6 336.04h1.3M541.6 336.04h-1.3M327.6 332.16h1.3M541.6 332.16h-1.3M327.6 328.99h1.3M541.6 328.99h-1.3M327.6 326.3h1.3M541.6 326.3h-1.3M327.6 323.98h1.3M541.6 323.98h-1.3M327.6 321.93h1.3M541.6 321.93h-1.3M327.6 320.1h2.2M541.6 320.1h-2.2M327.6 308.04h1.3M541.6 308.04h-1.3M327.6 300.99h1.3M541.6 300.99h-1.3M327.6 295.99h1.3M541.6 295.99h-1.3M327.6 292.11h1.3M541.6 292.11h-1.3M327.6 288.94h1.3M541.6 288.94h-1.3M327.6 286.25h1.3M541.6 286.25h-1.3M327.6 283.93h1.3M541.6 283.93h-1.3M327.6 281.88h1.3M541.6 281.88h-1.3M327.6 280.05h2.2M541.6 280.05h-2.2M327.6 267.99h1.3M541.6 267.99h-1.3M327.6 260.94h1.3M541.6 260.94h-1.3M327.6 255.94h1.3M541.6 255.94h-1.3M327.6 252.06h1.3M541.6 252.06h-1.3M327.6 248.89h1.3M541.6 248.89h-1.3M327.6 246.2h1.3M541.6 246.2h-1.3M327.6 243.88h1.3M541.6 243.88h-1.3M327.6 241.83h1.3M541.6 241.83h-1.3M327.6 240h2.2M541.6 240h-2.2" stroke="#444" stroke-width="0.8" fill="none"/>
<rect x="327.6" y="240" width="214" height="160.2" stroke="#707070" stroke-width="0.85" fill="none"/>
<text x="324.6" y="405.7" text-anchor="end" class="tl">10<tspan dy="-4.7" class="sup">-1</tspan></text>
<text x="324.6" y="365.65" text-anchor="end" class="tl">10<tspan dy="-4.7" class="sup">0</tspan></text>
<text x="324.6" y="325.6" text-anchor="end" class="tl">10<tspan dy="-4.7" class="sup">1</tspan></text>
<text x="324.6" y="285.55" text-anchor="end" class="tl">10<tspan dy="-4.7" class="sup">2</tspan></text>
<text x="324.6" y="245.5" text-anchor="end" class="tl">10<tspan dy="-4.7" class="sup">3</tspan></text>
<text x="343.72" y="416" text-anchor="middle" class="tl">10<tspan dy="-5.0" class="sup">1</tspan></text>
<text x="422.71" y="416" text-anchor="middle" class="tl">10<tspan dy="-5.0" class="sup">2</tspan></text>
<text x="501.7" y="416" text-anchor="middle" class="tl">10<tspan dy="-5.0" class="sup">3</tspan></text>
<text x="434.6" y="428.8" text-anchor="middle" class="al">frequency(Hz)</text>
<text transform="translate(303.2 320.1) rotate(-90)" text-anchor="middle" class="al">Amplitude</text>
<rect x="488.5" y="244.8" width="48.2" height="43.9" fill="#fff" stroke="#606060" stroke-width="0.9"/>
<path d="M491 250.9H510" stroke="#888" stroke-width="0.8" stroke-dasharray="1.5 1"/>
<text x="512" y="254.4" class="lg">signal</text>
<path d="M491 261.37H510" stroke="#6a74ff" stroke-width="1.3" />
<text x="512" y="264.87" class="lg">u1(t)</text>
<path d="M491 271.84H510" stroke="#5cf05c" stroke-width="1.3" />
<text x="512" y="275.34" class="lg">u2(t)</text>
<path d="M491 282.31H510" stroke="#ff66ff" stroke-width="1.3" />
<text x="512" y="285.81" class="lg">u3(t)</text>
<text x="408.75" y="444.4" class="cap" font-style="italic">α</text>
<text x="418.48" y="444.4" class="cap">=</text>
<text x="432.08" y="444.4" class="cap">2</text>
<text x="438.25" y="444.4" class="cap" font-style="italic">f</text>
<text x="444.48" y="444.4" class="cap" font-style="italic">s</text>
</svg>
</body></html>
